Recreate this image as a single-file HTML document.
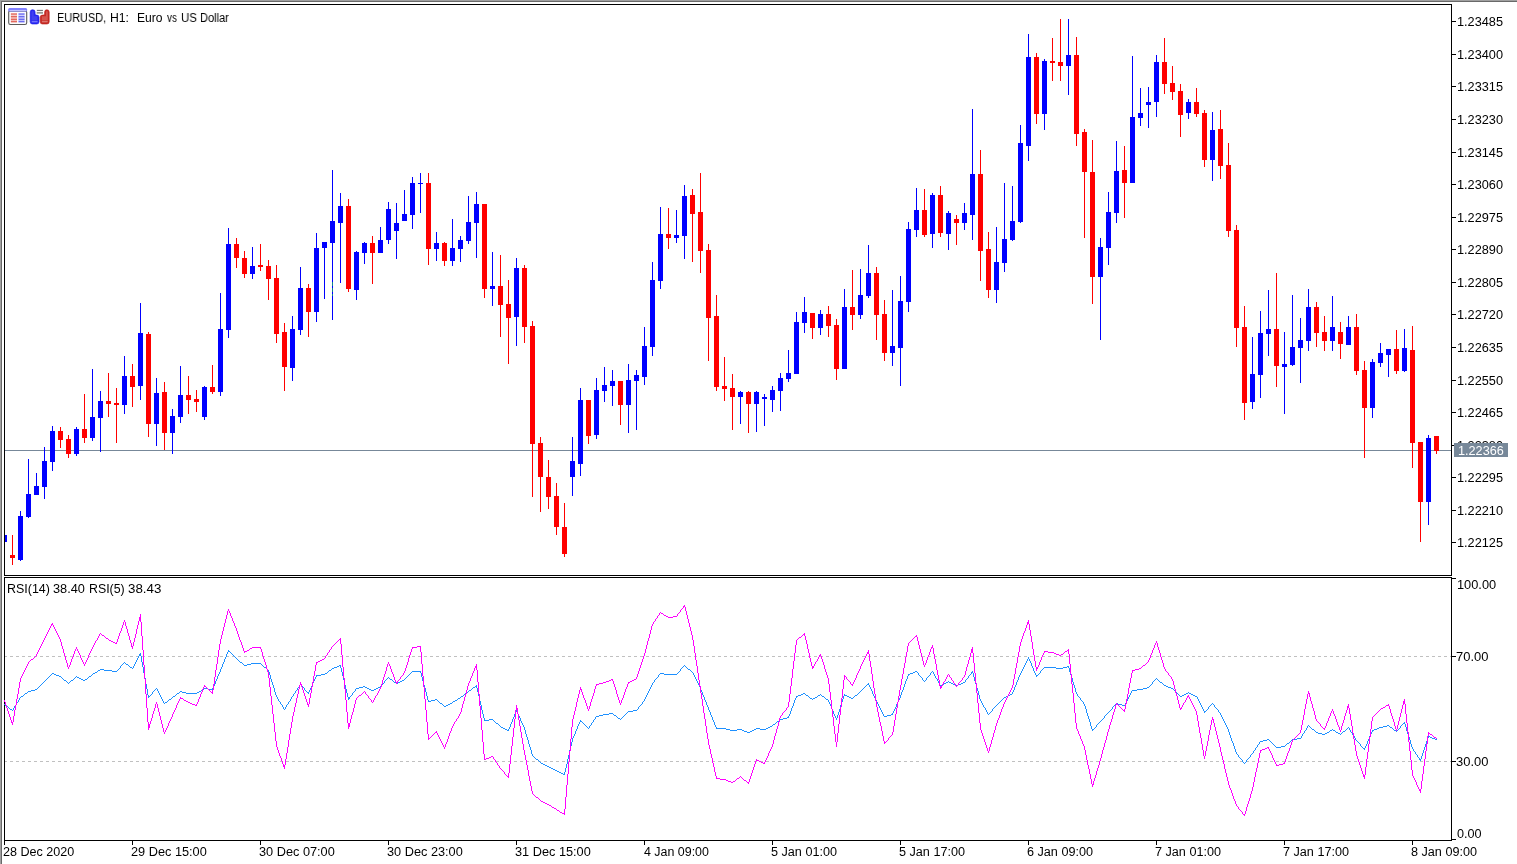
<!DOCTYPE html><html><head><meta charset="utf-8"><title>EURUSD,H1</title><style>
html,body{margin:0;padding:0;background:#fff;overflow:hidden}
body{width:1517px;height:864px;position:relative;font-family:"Liberation Sans",sans-serif;font-size:12px;color:#000}
.t{position:absolute;white-space:pre;line-height:14px;height:14px;transform-origin:0 0;will-change:transform}
svg{position:absolute;left:0;top:0}
</style></head><body>
<svg width="1517" height="864" viewBox="0 0 1517 864" shape-rendering="crispEdges">
<rect x="0" y="0" width="1517" height="1" fill="#a0a0a0"/>
<rect x="0" y="1" width="1517" height="1" fill="#696969"/>
<rect x="0" y="0" width="1" height="864" fill="#a0a0a0"/>
<rect x="1" y="1" width="1" height="863" fill="#696969"/>
<rect x="4" y="4" width="1448" height="1" fill="#000"/>
<rect x="4" y="575" width="1448" height="1" fill="#000"/>
<rect x="4" y="577" width="1448" height="1" fill="#000"/>
<rect x="4" y="840" width="1448" height="1" fill="#000"/>
<rect x="4" y="4" width="1" height="572" fill="#000"/>
<rect x="4" y="577" width="1" height="268" fill="#000"/>
<rect x="1451" y="4" width="1" height="572" fill="#000"/>
<rect x="1451" y="577" width="1" height="264" fill="#000"/>
<rect x="1452" y="21" width="4" height="1" fill="#000"/>
<rect x="1452" y="54" width="4" height="1" fill="#000"/>
<rect x="1452" y="86" width="4" height="1" fill="#000"/>
<rect x="1452" y="119" width="4" height="1" fill="#000"/>
<rect x="1452" y="152" width="4" height="1" fill="#000"/>
<rect x="1452" y="184" width="4" height="1" fill="#000"/>
<rect x="1452" y="217" width="4" height="1" fill="#000"/>
<rect x="1452" y="249" width="4" height="1" fill="#000"/>
<rect x="1452" y="282" width="4" height="1" fill="#000"/>
<rect x="1452" y="314" width="4" height="1" fill="#000"/>
<rect x="1452" y="347" width="4" height="1" fill="#000"/>
<rect x="1452" y="380" width="4" height="1" fill="#000"/>
<rect x="1452" y="412" width="4" height="1" fill="#000"/>
<rect x="1452" y="445" width="4" height="1" fill="#000"/>
<rect x="1452" y="477" width="4" height="1" fill="#000"/>
<rect x="1452" y="510" width="4" height="1" fill="#000"/>
<rect x="1452" y="542" width="4" height="1" fill="#000"/>
<rect x="1452" y="578" width="4" height="1" fill="#000"/>
<rect x="1452" y="656" width="4" height="1" fill="#000"/>
<rect x="1452" y="761" width="4" height="1" fill="#000"/>
<rect x="1452" y="839" width="4" height="1" fill="#000"/>
<rect x="4" y="841" width="1" height="4" fill="#000"/>
<rect x="132" y="841" width="1" height="4" fill="#000"/>
<rect x="260" y="841" width="1" height="4" fill="#000"/>
<rect x="388" y="841" width="1" height="4" fill="#000"/>
<rect x="516" y="841" width="1" height="4" fill="#000"/>
<rect x="644" y="841" width="1" height="4" fill="#000"/>
<rect x="772" y="841" width="1" height="4" fill="#000"/>
<rect x="900" y="841" width="1" height="4" fill="#000"/>
<rect x="1028" y="841" width="1" height="4" fill="#000"/>
<rect x="1156" y="841" width="1" height="4" fill="#000"/>
<rect x="1284" y="841" width="1" height="4" fill="#000"/>
<rect x="1412" y="841" width="1" height="4" fill="#000"/>
<path d="M5 656.5H7M10 656.5H1451" stroke="#c0c0c0" stroke-width="1" stroke-dasharray="3 3" fill="none"/>
<path d="M5 761.5H7M10 761.5H1451" stroke="#c0c0c0" stroke-width="1" stroke-dasharray="3 3" fill="none"/>
<rect x="5" y="450" width="1446" height="1" fill="#778899"/>
<rect x="5" y="535" width="2" height="7" fill="#0000ff"/>
<rect x="12" y="535" width="1" height="30" fill="#ff0000"/>
<rect x="10" y="555" width="5" height="3" fill="#ff0000"/>
<rect x="20" y="511" width="1" height="50" fill="#0000ff"/>
<rect x="18" y="516" width="5" height="44" fill="#0000ff"/>
<rect x="28" y="459" width="1" height="59" fill="#0000ff"/>
<rect x="26" y="494" width="5" height="23" fill="#0000ff"/>
<rect x="36" y="473" width="1" height="22" fill="#0000ff"/>
<rect x="34" y="486" width="5" height="9" fill="#0000ff"/>
<rect x="44" y="447" width="1" height="52" fill="#0000ff"/>
<rect x="42" y="461" width="5" height="26" fill="#0000ff"/>
<rect x="52" y="426" width="1" height="45" fill="#0000ff"/>
<rect x="50" y="431" width="5" height="31" fill="#0000ff"/>
<rect x="60" y="427" width="1" height="21" fill="#ff0000"/>
<rect x="58" y="431" width="5" height="9" fill="#ff0000"/>
<rect x="68" y="435" width="1" height="23" fill="#ff0000"/>
<rect x="66" y="439" width="5" height="15" fill="#ff0000"/>
<rect x="76" y="427" width="1" height="29" fill="#0000ff"/>
<rect x="74" y="429" width="5" height="25" fill="#0000ff"/>
<rect x="84" y="394" width="1" height="49" fill="#ff0000"/>
<rect x="82" y="429" width="5" height="9" fill="#ff0000"/>
<rect x="92" y="369" width="1" height="72" fill="#0000ff"/>
<rect x="90" y="417" width="5" height="21" fill="#0000ff"/>
<rect x="100" y="391" width="1" height="61" fill="#0000ff"/>
<rect x="98" y="401" width="5" height="17" fill="#0000ff"/>
<rect x="108" y="373" width="1" height="44" fill="#ff0000"/>
<rect x="106" y="401" width="5" height="3" fill="#ff0000"/>
<rect x="116" y="388" width="1" height="55" fill="#ff0000"/>
<rect x="114" y="403" width="5" height="2" fill="#ff0000"/>
<rect x="124" y="356" width="1" height="58" fill="#0000ff"/>
<rect x="122" y="376" width="5" height="29" fill="#0000ff"/>
<rect x="132" y="364" width="1" height="43" fill="#ff0000"/>
<rect x="130" y="376" width="5" height="11" fill="#ff0000"/>
<rect x="140" y="303" width="1" height="97" fill="#0000ff"/>
<rect x="138" y="333" width="5" height="53" fill="#0000ff"/>
<rect x="148" y="332" width="1" height="105" fill="#ff0000"/>
<rect x="146" y="334" width="5" height="90" fill="#ff0000"/>
<rect x="156" y="378" width="1" height="68" fill="#0000ff"/>
<rect x="154" y="393" width="5" height="31" fill="#0000ff"/>
<rect x="164" y="382" width="1" height="68" fill="#ff0000"/>
<rect x="162" y="392" width="5" height="41" fill="#ff0000"/>
<rect x="172" y="409" width="1" height="45" fill="#0000ff"/>
<rect x="170" y="416" width="5" height="17" fill="#0000ff"/>
<rect x="180" y="366" width="1" height="57" fill="#0000ff"/>
<rect x="178" y="395" width="5" height="22" fill="#0000ff"/>
<rect x="188" y="376" width="1" height="38" fill="#ff0000"/>
<rect x="186" y="395" width="5" height="5" fill="#ff0000"/>
<rect x="196" y="390" width="1" height="22" fill="#ff0000"/>
<rect x="194" y="399" width="5" height="3" fill="#ff0000"/>
<rect x="204" y="386" width="1" height="34" fill="#0000ff"/>
<rect x="202" y="387" width="5" height="30" fill="#0000ff"/>
<rect x="212" y="365" width="1" height="29" fill="#ff0000"/>
<rect x="210" y="387" width="5" height="5" fill="#ff0000"/>
<rect x="220" y="293" width="1" height="103" fill="#0000ff"/>
<rect x="218" y="329" width="5" height="63" fill="#0000ff"/>
<rect x="228" y="228" width="1" height="110" fill="#0000ff"/>
<rect x="226" y="244" width="5" height="86" fill="#0000ff"/>
<rect x="236" y="238" width="1" height="30" fill="#ff0000"/>
<rect x="234" y="244" width="5" height="14" fill="#ff0000"/>
<rect x="244" y="251" width="1" height="27" fill="#ff0000"/>
<rect x="242" y="258" width="5" height="16" fill="#ff0000"/>
<rect x="252" y="247" width="1" height="32" fill="#0000ff"/>
<rect x="250" y="266" width="5" height="8" fill="#0000ff"/>
<rect x="260" y="244" width="1" height="27" fill="#ff0000"/>
<rect x="258" y="265" width="5" height="2" fill="#ff0000"/>
<rect x="268" y="260" width="1" height="40" fill="#ff0000"/>
<rect x="266" y="266" width="5" height="13" fill="#ff0000"/>
<rect x="276" y="265" width="1" height="78" fill="#ff0000"/>
<rect x="274" y="278" width="5" height="56" fill="#ff0000"/>
<rect x="284" y="323" width="1" height="68" fill="#ff0000"/>
<rect x="282" y="332" width="5" height="35" fill="#ff0000"/>
<rect x="292" y="316" width="1" height="65" fill="#0000ff"/>
<rect x="290" y="329" width="5" height="39" fill="#0000ff"/>
<rect x="300" y="267" width="1" height="68" fill="#0000ff"/>
<rect x="298" y="288" width="5" height="42" fill="#0000ff"/>
<rect x="308" y="284" width="1" height="53" fill="#ff0000"/>
<rect x="306" y="288" width="5" height="24" fill="#ff0000"/>
<rect x="316" y="233" width="1" height="89" fill="#0000ff"/>
<rect x="314" y="248" width="5" height="64" fill="#0000ff"/>
<rect x="324" y="242" width="1" height="57" fill="#0000ff"/>
<rect x="322" y="242" width="5" height="6" fill="#0000ff"/>
<rect x="332" y="170" width="1" height="150" fill="#0000ff"/>
<rect x="330" y="221" width="5" height="22" fill="#0000ff"/>
<rect x="340" y="193" width="1" height="90" fill="#0000ff"/>
<rect x="338" y="206" width="5" height="17" fill="#0000ff"/>
<rect x="348" y="199" width="1" height="93" fill="#ff0000"/>
<rect x="346" y="206" width="5" height="83" fill="#ff0000"/>
<rect x="356" y="251" width="1" height="49" fill="#0000ff"/>
<rect x="354" y="252" width="5" height="38" fill="#0000ff"/>
<rect x="364" y="242" width="1" height="22" fill="#0000ff"/>
<rect x="362" y="243" width="5" height="10" fill="#0000ff"/>
<rect x="372" y="236" width="1" height="48" fill="#ff0000"/>
<rect x="370" y="243" width="5" height="10" fill="#ff0000"/>
<rect x="380" y="227" width="1" height="26" fill="#0000ff"/>
<rect x="378" y="240" width="5" height="13" fill="#0000ff"/>
<rect x="388" y="202" width="1" height="42" fill="#0000ff"/>
<rect x="386" y="209" width="5" height="31" fill="#0000ff"/>
<rect x="396" y="203" width="1" height="56" fill="#0000ff"/>
<rect x="394" y="223" width="5" height="8" fill="#0000ff"/>
<rect x="404" y="190" width="1" height="31" fill="#0000ff"/>
<rect x="402" y="214" width="5" height="7" fill="#0000ff"/>
<rect x="412" y="177" width="1" height="52" fill="#0000ff"/>
<rect x="410" y="183" width="5" height="32" fill="#0000ff"/>
<rect x="420" y="173" width="1" height="40" fill="#0000ff"/>
<rect x="418" y="183" width="5" height="1" fill="#0000ff"/>
<rect x="428" y="173" width="1" height="92" fill="#ff0000"/>
<rect x="426" y="183" width="5" height="66" fill="#ff0000"/>
<rect x="436" y="232" width="1" height="29" fill="#0000ff"/>
<rect x="434" y="243" width="5" height="6" fill="#0000ff"/>
<rect x="444" y="242" width="1" height="24" fill="#ff0000"/>
<rect x="442" y="243" width="5" height="18" fill="#ff0000"/>
<rect x="452" y="219" width="1" height="47" fill="#0000ff"/>
<rect x="450" y="248" width="5" height="13" fill="#0000ff"/>
<rect x="460" y="236" width="1" height="26" fill="#0000ff"/>
<rect x="458" y="240" width="5" height="9" fill="#0000ff"/>
<rect x="468" y="196" width="1" height="48" fill="#0000ff"/>
<rect x="466" y="222" width="5" height="19" fill="#0000ff"/>
<rect x="476" y="192" width="1" height="66" fill="#0000ff"/>
<rect x="474" y="204" width="5" height="19" fill="#0000ff"/>
<rect x="484" y="204" width="1" height="94" fill="#ff0000"/>
<rect x="482" y="204" width="5" height="85" fill="#ff0000"/>
<rect x="492" y="252" width="1" height="54" fill="#0000ff"/>
<rect x="490" y="286" width="5" height="3" fill="#0000ff"/>
<rect x="500" y="255" width="1" height="82" fill="#ff0000"/>
<rect x="498" y="286" width="5" height="19" fill="#ff0000"/>
<rect x="508" y="280" width="1" height="84" fill="#ff0000"/>
<rect x="506" y="304" width="5" height="14" fill="#ff0000"/>
<rect x="516" y="258" width="1" height="88" fill="#0000ff"/>
<rect x="514" y="268" width="5" height="49" fill="#0000ff"/>
<rect x="524" y="265" width="1" height="78" fill="#ff0000"/>
<rect x="522" y="268" width="5" height="59" fill="#ff0000"/>
<rect x="532" y="321" width="1" height="176" fill="#ff0000"/>
<rect x="530" y="326" width="5" height="118" fill="#ff0000"/>
<rect x="540" y="437" width="1" height="75" fill="#ff0000"/>
<rect x="538" y="443" width="5" height="34" fill="#ff0000"/>
<rect x="548" y="460" width="1" height="49" fill="#ff0000"/>
<rect x="546" y="477" width="5" height="20" fill="#ff0000"/>
<rect x="556" y="483" width="1" height="52" fill="#ff0000"/>
<rect x="554" y="496" width="5" height="31" fill="#ff0000"/>
<rect x="564" y="503" width="1" height="54" fill="#ff0000"/>
<rect x="562" y="527" width="5" height="27" fill="#ff0000"/>
<rect x="572" y="437" width="1" height="59" fill="#0000ff"/>
<rect x="570" y="461" width="5" height="16" fill="#0000ff"/>
<rect x="580" y="388" width="1" height="88" fill="#0000ff"/>
<rect x="578" y="400" width="5" height="64" fill="#0000ff"/>
<rect x="588" y="400" width="1" height="44" fill="#ff0000"/>
<rect x="586" y="400" width="5" height="36" fill="#ff0000"/>
<rect x="596" y="378" width="1" height="61" fill="#0000ff"/>
<rect x="594" y="390" width="5" height="45" fill="#0000ff"/>
<rect x="604" y="367" width="1" height="35" fill="#0000ff"/>
<rect x="602" y="385" width="5" height="6" fill="#0000ff"/>
<rect x="612" y="370" width="1" height="36" fill="#0000ff"/>
<rect x="610" y="381" width="5" height="5" fill="#0000ff"/>
<rect x="620" y="381" width="1" height="44" fill="#ff0000"/>
<rect x="618" y="381" width="5" height="24" fill="#ff0000"/>
<rect x="628" y="364" width="1" height="69" fill="#0000ff"/>
<rect x="626" y="380" width="5" height="25" fill="#0000ff"/>
<rect x="636" y="370" width="1" height="60" fill="#0000ff"/>
<rect x="634" y="375" width="5" height="6" fill="#0000ff"/>
<rect x="644" y="327" width="1" height="58" fill="#0000ff"/>
<rect x="642" y="346" width="5" height="31" fill="#0000ff"/>
<rect x="652" y="262" width="1" height="94" fill="#0000ff"/>
<rect x="650" y="280" width="5" height="67" fill="#0000ff"/>
<rect x="660" y="207" width="1" height="82" fill="#0000ff"/>
<rect x="658" y="234" width="5" height="47" fill="#0000ff"/>
<rect x="668" y="208" width="1" height="41" fill="#ff0000"/>
<rect x="666" y="234" width="5" height="4" fill="#ff0000"/>
<rect x="676" y="210" width="1" height="33" fill="#0000ff"/>
<rect x="674" y="235" width="5" height="3" fill="#0000ff"/>
<rect x="684" y="185" width="1" height="74" fill="#0000ff"/>
<rect x="682" y="196" width="5" height="40" fill="#0000ff"/>
<rect x="692" y="189" width="1" height="73" fill="#ff0000"/>
<rect x="690" y="195" width="5" height="19" fill="#ff0000"/>
<rect x="700" y="173" width="1" height="100" fill="#ff0000"/>
<rect x="698" y="212" width="5" height="39" fill="#ff0000"/>
<rect x="708" y="244" width="1" height="117" fill="#ff0000"/>
<rect x="706" y="250" width="5" height="68" fill="#ff0000"/>
<rect x="716" y="295" width="1" height="96" fill="#ff0000"/>
<rect x="714" y="316" width="5" height="71" fill="#ff0000"/>
<rect x="724" y="357" width="1" height="44" fill="#ff0000"/>
<rect x="722" y="386" width="5" height="3" fill="#ff0000"/>
<rect x="732" y="374" width="1" height="56" fill="#ff0000"/>
<rect x="730" y="388" width="5" height="9" fill="#ff0000"/>
<rect x="740" y="391" width="1" height="33" fill="#0000ff"/>
<rect x="738" y="392" width="5" height="5" fill="#0000ff"/>
<rect x="748" y="391" width="1" height="42" fill="#ff0000"/>
<rect x="746" y="392" width="5" height="12" fill="#ff0000"/>
<rect x="756" y="391" width="1" height="41" fill="#0000ff"/>
<rect x="754" y="392" width="5" height="12" fill="#0000ff"/>
<rect x="764" y="394" width="1" height="32" fill="#0000ff"/>
<rect x="762" y="397" width="5" height="2" fill="#0000ff"/>
<rect x="772" y="386" width="1" height="26" fill="#0000ff"/>
<rect x="770" y="390" width="5" height="10" fill="#0000ff"/>
<rect x="780" y="373" width="1" height="38" fill="#0000ff"/>
<rect x="778" y="378" width="5" height="13" fill="#0000ff"/>
<rect x="788" y="350" width="1" height="32" fill="#0000ff"/>
<rect x="786" y="373" width="5" height="6" fill="#0000ff"/>
<rect x="796" y="312" width="1" height="62" fill="#0000ff"/>
<rect x="794" y="322" width="5" height="52" fill="#0000ff"/>
<rect x="804" y="297" width="1" height="36" fill="#0000ff"/>
<rect x="802" y="312" width="5" height="11" fill="#0000ff"/>
<rect x="812" y="313" width="1" height="26" fill="#ff0000"/>
<rect x="810" y="313" width="5" height="15" fill="#ff0000"/>
<rect x="820" y="310" width="1" height="25" fill="#0000ff"/>
<rect x="818" y="314" width="5" height="14" fill="#0000ff"/>
<rect x="828" y="306" width="1" height="31" fill="#ff0000"/>
<rect x="826" y="314" width="5" height="12" fill="#ff0000"/>
<rect x="836" y="319" width="1" height="61" fill="#ff0000"/>
<rect x="834" y="325" width="5" height="44" fill="#ff0000"/>
<rect x="844" y="289" width="1" height="80" fill="#0000ff"/>
<rect x="842" y="307" width="5" height="62" fill="#0000ff"/>
<rect x="852" y="270" width="1" height="60" fill="#ff0000"/>
<rect x="850" y="307" width="5" height="8" fill="#ff0000"/>
<rect x="860" y="269" width="1" height="50" fill="#0000ff"/>
<rect x="858" y="295" width="5" height="20" fill="#0000ff"/>
<rect x="868" y="245" width="1" height="53" fill="#0000ff"/>
<rect x="866" y="273" width="5" height="23" fill="#0000ff"/>
<rect x="876" y="267" width="1" height="73" fill="#ff0000"/>
<rect x="874" y="273" width="5" height="42" fill="#ff0000"/>
<rect x="884" y="300" width="1" height="61" fill="#ff0000"/>
<rect x="882" y="314" width="5" height="39" fill="#ff0000"/>
<rect x="892" y="290" width="1" height="76" fill="#0000ff"/>
<rect x="890" y="346" width="5" height="7" fill="#0000ff"/>
<rect x="900" y="276" width="1" height="110" fill="#0000ff"/>
<rect x="898" y="301" width="5" height="47" fill="#0000ff"/>
<rect x="908" y="222" width="1" height="90" fill="#0000ff"/>
<rect x="906" y="229" width="5" height="73" fill="#0000ff"/>
<rect x="916" y="188" width="1" height="49" fill="#0000ff"/>
<rect x="914" y="210" width="5" height="20" fill="#0000ff"/>
<rect x="924" y="189" width="1" height="48" fill="#ff0000"/>
<rect x="922" y="210" width="5" height="25" fill="#ff0000"/>
<rect x="932" y="193" width="1" height="55" fill="#0000ff"/>
<rect x="930" y="195" width="5" height="39" fill="#0000ff"/>
<rect x="940" y="186" width="1" height="51" fill="#ff0000"/>
<rect x="938" y="195" width="5" height="38" fill="#ff0000"/>
<rect x="948" y="211" width="1" height="39" fill="#0000ff"/>
<rect x="946" y="213" width="5" height="21" fill="#0000ff"/>
<rect x="956" y="215" width="1" height="30" fill="#ff0000"/>
<rect x="954" y="219" width="5" height="4" fill="#ff0000"/>
<rect x="964" y="203" width="1" height="27" fill="#0000ff"/>
<rect x="962" y="213" width="5" height="10" fill="#0000ff"/>
<rect x="972" y="109" width="1" height="131" fill="#0000ff"/>
<rect x="970" y="174" width="5" height="41" fill="#0000ff"/>
<rect x="980" y="150" width="1" height="131" fill="#ff0000"/>
<rect x="978" y="174" width="5" height="77" fill="#ff0000"/>
<rect x="988" y="232" width="1" height="66" fill="#ff0000"/>
<rect x="986" y="249" width="5" height="41" fill="#ff0000"/>
<rect x="996" y="227" width="1" height="76" fill="#0000ff"/>
<rect x="994" y="262" width="5" height="28" fill="#0000ff"/>
<rect x="1004" y="183" width="1" height="89" fill="#0000ff"/>
<rect x="1002" y="239" width="5" height="24" fill="#0000ff"/>
<rect x="1012" y="186" width="1" height="55" fill="#0000ff"/>
<rect x="1010" y="221" width="5" height="19" fill="#0000ff"/>
<rect x="1020" y="125" width="1" height="98" fill="#0000ff"/>
<rect x="1018" y="143" width="5" height="79" fill="#0000ff"/>
<rect x="1028" y="34" width="1" height="127" fill="#0000ff"/>
<rect x="1026" y="57" width="5" height="89" fill="#0000ff"/>
<rect x="1036" y="53" width="1" height="71" fill="#ff0000"/>
<rect x="1034" y="57" width="5" height="57" fill="#ff0000"/>
<rect x="1044" y="59" width="1" height="71" fill="#0000ff"/>
<rect x="1042" y="61" width="5" height="53" fill="#0000ff"/>
<rect x="1052" y="38" width="1" height="43" fill="#ff0000"/>
<rect x="1050" y="61" width="5" height="2" fill="#ff0000"/>
<rect x="1060" y="19" width="1" height="62" fill="#ff0000"/>
<rect x="1058" y="62" width="5" height="4" fill="#ff0000"/>
<rect x="1068" y="19" width="1" height="76" fill="#0000ff"/>
<rect x="1066" y="55" width="5" height="11" fill="#0000ff"/>
<rect x="1076" y="37" width="1" height="109" fill="#ff0000"/>
<rect x="1074" y="55" width="5" height="79" fill="#ff0000"/>
<rect x="1084" y="129" width="1" height="109" fill="#ff0000"/>
<rect x="1082" y="132" width="5" height="40" fill="#ff0000"/>
<rect x="1092" y="140" width="1" height="164" fill="#ff0000"/>
<rect x="1090" y="172" width="5" height="105" fill="#ff0000"/>
<rect x="1100" y="238" width="1" height="102" fill="#0000ff"/>
<rect x="1098" y="247" width="5" height="30" fill="#0000ff"/>
<rect x="1108" y="192" width="1" height="73" fill="#0000ff"/>
<rect x="1106" y="212" width="5" height="36" fill="#0000ff"/>
<rect x="1116" y="141" width="1" height="82" fill="#0000ff"/>
<rect x="1114" y="171" width="5" height="42" fill="#0000ff"/>
<rect x="1124" y="146" width="1" height="72" fill="#ff0000"/>
<rect x="1122" y="170" width="5" height="13" fill="#ff0000"/>
<rect x="1132" y="56" width="1" height="127" fill="#0000ff"/>
<rect x="1130" y="117" width="5" height="66" fill="#0000ff"/>
<rect x="1140" y="88" width="1" height="38" fill="#0000ff"/>
<rect x="1138" y="113" width="5" height="5" fill="#0000ff"/>
<rect x="1148" y="87" width="1" height="41" fill="#0000ff"/>
<rect x="1146" y="102" width="5" height="3" fill="#0000ff"/>
<rect x="1156" y="55" width="1" height="62" fill="#0000ff"/>
<rect x="1154" y="62" width="5" height="40" fill="#0000ff"/>
<rect x="1164" y="38" width="1" height="56" fill="#ff0000"/>
<rect x="1162" y="62" width="5" height="22" fill="#ff0000"/>
<rect x="1172" y="66" width="1" height="34" fill="#ff0000"/>
<rect x="1170" y="83" width="5" height="9" fill="#ff0000"/>
<rect x="1180" y="84" width="1" height="53" fill="#ff0000"/>
<rect x="1178" y="91" width="5" height="24" fill="#ff0000"/>
<rect x="1188" y="99" width="1" height="20" fill="#0000ff"/>
<rect x="1186" y="102" width="5" height="11" fill="#0000ff"/>
<rect x="1196" y="88" width="1" height="29" fill="#ff0000"/>
<rect x="1194" y="102" width="5" height="12" fill="#ff0000"/>
<rect x="1204" y="110" width="1" height="57" fill="#ff0000"/>
<rect x="1202" y="113" width="5" height="47" fill="#ff0000"/>
<rect x="1212" y="112" width="1" height="69" fill="#0000ff"/>
<rect x="1210" y="130" width="5" height="30" fill="#0000ff"/>
<rect x="1220" y="110" width="1" height="69" fill="#ff0000"/>
<rect x="1218" y="129" width="5" height="37" fill="#ff0000"/>
<rect x="1228" y="143" width="1" height="94" fill="#ff0000"/>
<rect x="1226" y="165" width="5" height="66" fill="#ff0000"/>
<rect x="1236" y="225" width="1" height="122" fill="#ff0000"/>
<rect x="1234" y="230" width="5" height="98" fill="#ff0000"/>
<rect x="1244" y="306" width="1" height="114" fill="#ff0000"/>
<rect x="1242" y="327" width="5" height="76" fill="#ff0000"/>
<rect x="1252" y="337" width="1" height="72" fill="#0000ff"/>
<rect x="1250" y="374" width="5" height="28" fill="#0000ff"/>
<rect x="1260" y="311" width="1" height="87" fill="#0000ff"/>
<rect x="1258" y="333" width="5" height="42" fill="#0000ff"/>
<rect x="1268" y="290" width="1" height="66" fill="#0000ff"/>
<rect x="1266" y="329" width="5" height="5" fill="#0000ff"/>
<rect x="1276" y="273" width="1" height="114" fill="#ff0000"/>
<rect x="1274" y="329" width="5" height="37" fill="#ff0000"/>
<rect x="1284" y="332" width="1" height="82" fill="#0000ff"/>
<rect x="1282" y="364" width="5" height="3" fill="#0000ff"/>
<rect x="1292" y="295" width="1" height="71" fill="#0000ff"/>
<rect x="1290" y="347" width="5" height="18" fill="#0000ff"/>
<rect x="1300" y="318" width="1" height="65" fill="#0000ff"/>
<rect x="1298" y="340" width="5" height="8" fill="#0000ff"/>
<rect x="1308" y="289" width="1" height="62" fill="#0000ff"/>
<rect x="1306" y="307" width="5" height="34" fill="#0000ff"/>
<rect x="1316" y="302" width="1" height="45" fill="#ff0000"/>
<rect x="1314" y="307" width="5" height="26" fill="#ff0000"/>
<rect x="1324" y="316" width="1" height="35" fill="#ff0000"/>
<rect x="1322" y="332" width="5" height="9" fill="#ff0000"/>
<rect x="1332" y="296" width="1" height="55" fill="#0000ff"/>
<rect x="1330" y="327" width="5" height="14" fill="#0000ff"/>
<rect x="1340" y="322" width="1" height="37" fill="#ff0000"/>
<rect x="1338" y="332" width="5" height="12" fill="#ff0000"/>
<rect x="1348" y="316" width="1" height="29" fill="#0000ff"/>
<rect x="1346" y="327" width="5" height="18" fill="#0000ff"/>
<rect x="1356" y="314" width="1" height="61" fill="#ff0000"/>
<rect x="1354" y="327" width="5" height="44" fill="#ff0000"/>
<rect x="1364" y="361" width="1" height="97" fill="#ff0000"/>
<rect x="1362" y="370" width="5" height="38" fill="#ff0000"/>
<rect x="1372" y="359" width="1" height="59" fill="#0000ff"/>
<rect x="1370" y="362" width="5" height="46" fill="#0000ff"/>
<rect x="1380" y="343" width="1" height="24" fill="#0000ff"/>
<rect x="1378" y="353" width="5" height="10" fill="#0000ff"/>
<rect x="1388" y="349" width="1" height="28" fill="#0000ff"/>
<rect x="1386" y="349" width="5" height="6" fill="#0000ff"/>
<rect x="1396" y="330" width="1" height="44" fill="#ff0000"/>
<rect x="1394" y="349" width="5" height="22" fill="#ff0000"/>
<rect x="1404" y="329" width="1" height="43" fill="#0000ff"/>
<rect x="1402" y="348" width="5" height="23" fill="#0000ff"/>
<rect x="1412" y="326" width="1" height="142" fill="#ff0000"/>
<rect x="1410" y="350" width="5" height="93" fill="#ff0000"/>
<rect x="1420" y="442" width="1" height="100" fill="#ff0000"/>
<rect x="1418" y="442" width="5" height="60" fill="#ff0000"/>
<rect x="1428" y="435" width="1" height="90" fill="#0000ff"/>
<rect x="1426" y="438" width="5" height="64" fill="#0000ff"/>
<rect x="1436" y="436" width="1" height="18" fill="#ff0000"/>
<rect x="1434" y="436" width="5" height="15" fill="#ff0000"/>
<path d="M4.5 704v1M5.5 705v1M6.5 706v1M7.5 706v1M8.5 707v1M9.5 708v1M10.5 709v1M11.5 709v1M12.5 710v1M12.5 710v1M13.5 708v2M14.5 706v2M15.5 705v1M16.5 703v2M17.5 702v1M18.5 700v2M19.5 698v2M20.5 697v1M20.5 697v1M21.5 696v1M22.5 696v1M23.5 695v1M24.5 694v1M25.5 693v1M26.5 693v1M27.5 692v1M28.5 691v1M28.5 691v1M29.5 691v1M30.5 691v1M31.5 690v1M32.5 690v1M33.5 690v1M34.5 690v1M35.5 689v1M36.5 689v1M36.5 689v1M37.5 688v1M38.5 687v1M39.5 686v1M40.5 685v1M41.5 684v1M42.5 683v1M43.5 682v1M44.5 681v1M44.5 681v1M45.5 680v1M46.5 679v1M47.5 678v1M48.5 677v1M49.5 676v1M50.5 675v1M51.5 674v1M52.5 673v1M52.5 673v1M53.5 673v1M54.5 674v1M55.5 674v1M56.5 675v1M57.5 675v1M58.5 675v1M59.5 676v1M60.5 676v1M60.5 676v1M61.5 677v1M62.5 678v1M63.5 679v1M64.5 680v1M65.5 680v1M66.5 681v1M67.5 682v1M68.5 683v1M68.5 683v1M69.5 682v1M70.5 681v1M71.5 680v1M72.5 680v1M73.5 679v1M74.5 678v1M75.5 677v1M76.5 676v1M76.5 676v1M77.5 677v1M78.5 677v1M79.5 678v1M80.5 678v1M81.5 679v1M82.5 679v1M83.5 680v1M84.5 680v1M84.5 680v1M85.5 679v1M86.5 679v1M87.5 678v1M88.5 677v1M89.5 676v1M90.5 676v1M91.5 675v1M92.5 674v1M92.5 674v1M93.5 673v1M94.5 673v1M95.5 672v1M96.5 672v1M97.5 671v1M98.5 670v1M99.5 670v1M100.5 669v1M100.5 669v1M101.5 669v1M102.5 669v1M103.5 669v1M104.5 670v1M105.5 670v1M106.5 670v1M107.5 670v1M108.5 670v1M108.5 670v1M109.5 670v1M110.5 670v1M111.5 670v1M112.5 671v1M113.5 671v1M114.5 671v1M115.5 671v1M116.5 671v1M116.5 671v1M117.5 670v1M118.5 669v1M119.5 668v1M120.5 666v2M121.5 665v1M122.5 664v1M123.5 663v1M124.5 662v1M124.5 662v1M125.5 663v1M126.5 664v1M127.5 664v1M128.5 665v1M129.5 666v1M130.5 667v1M131.5 667v1M132.5 668v1M132.5 668v1M133.5 666v2M134.5 664v2M135.5 662v2M136.5 660v2M137.5 658v2M138.5 656v2M139.5 654v2M140.5 653v1M140.5 653v3M141.5 656v6M142.5 662v5M143.5 667v6M144.5 673v5M145.5 678v6M146.5 684v5M147.5 689v6M148.5 695v3M148.5 697v1M149.5 696v1M150.5 695v1M151.5 694v1M152.5 692v2M153.5 691v1M154.5 690v1M155.5 689v1M156.5 688v1M156.5 688v1M157.5 689v2M158.5 691v2M159.5 693v2M160.5 695v2M161.5 697v2M162.5 699v2M163.5 701v2M164.5 703v1M164.5 703v1M165.5 702v1M166.5 702v1M167.5 701v1M168.5 700v1M169.5 699v1M170.5 699v1M171.5 698v1M172.5 697v1M172.5 697v1M173.5 696v1M174.5 696v1M175.5 695v1M176.5 694v1M177.5 693v1M178.5 693v1M179.5 692v1M180.5 691v1M180.5 691v1M181.5 691v1M182.5 692v1M183.5 692v1M184.5 692v1M185.5 692v1M186.5 693v1M187.5 693v1M188.5 693v1M188.5 693v1M189.5 693v1M190.5 693v1M191.5 693v1M192.5 693v1M193.5 693v1M194.5 693v1M195.5 693v1M196.5 693v1M196.5 693v1M197.5 692v1M198.5 692v1M199.5 691v1M200.5 691v1M201.5 690v1M202.5 689v1M203.5 689v1M204.5 688v1M204.5 688v1M205.5 688v1M206.5 688v1M207.5 688v1M208.5 689v1M209.5 689v1M210.5 689v1M211.5 689v1M212.5 689v1M212.5 688v2M213.5 686v2M214.5 684v2M215.5 681v3M216.5 679v2M217.5 676v3M218.5 674v2M219.5 672v2M220.5 670v2M220.5 669v2M221.5 667v2M222.5 664v3M223.5 662v2M224.5 659v3M225.5 657v2M226.5 654v3M227.5 652v2M228.5 650v2M228.5 650v1M229.5 651v1M230.5 652v1M231.5 653v1M232.5 654v1M233.5 655v1M234.5 656v1M235.5 657v1M236.5 658v1M236.5 658v1M237.5 659v1M238.5 660v1M239.5 661v1M240.5 662v1M241.5 662v1M242.5 663v1M243.5 664v1M244.5 665v1M244.5 665v1M245.5 665v1M246.5 665v1M247.5 664v1M248.5 664v1M249.5 664v1M250.5 664v1M251.5 663v1M252.5 663v1M252.5 663v1M253.5 663v1M254.5 663v1M255.5 663v1M256.5 663v1M257.5 663v1M258.5 663v1M259.5 663v1M260.5 663v1M260.5 663v1M261.5 664v1M262.5 665v1M263.5 666v1M264.5 667v1M265.5 667v1M266.5 668v1M267.5 669v1M268.5 670v1M268.5 670v2M269.5 672v3M270.5 675v4M271.5 679v3M272.5 682v3M273.5 685v3M274.5 688v4M275.5 692v3M276.5 695v2M276.5 696v1M277.5 697v2M278.5 699v2M279.5 701v1M280.5 702v2M281.5 704v1M282.5 705v2M283.5 707v2M284.5 709v1M284.5 709v1M285.5 707v2M286.5 705v2M287.5 704v1M288.5 702v2M289.5 701v1M290.5 699v2M291.5 697v2M292.5 696v1M292.5 696v1M293.5 694v2M294.5 693v1M295.5 691v2M296.5 690v1M297.5 688v2M298.5 687v1M299.5 685v2M300.5 684v1M300.5 684v1M301.5 685v1M302.5 686v1M303.5 687v1M304.5 688v2M305.5 690v1M306.5 691v1M307.5 692v1M308.5 693v1M308.5 692v2M309.5 690v2M310.5 688v2M311.5 686v2M312.5 683v3M313.5 681v2M314.5 679v2M315.5 677v2M316.5 675v2M316.5 675v1M317.5 675v1M318.5 675v1M319.5 675v1M320.5 675v1M321.5 674v1M322.5 674v1M323.5 674v1M324.5 674v1M324.5 674v1M325.5 673v1M326.5 673v1M327.5 672v1M328.5 671v1M329.5 670v1M330.5 670v1M331.5 669v1M332.5 668v1M332.5 668v1M333.5 668v1M334.5 667v1M335.5 667v1M336.5 667v1M337.5 666v1M338.5 666v1M339.5 665v1M340.5 665v1M340.5 665v3M341.5 668v4M342.5 672v4M343.5 676v4M344.5 680v5M345.5 685v4M346.5 689v4M347.5 693v4M348.5 697v3M348.5 699v1M349.5 697v2M350.5 696v1M351.5 695v1M352.5 693v2M353.5 692v1M354.5 691v1M355.5 689v2M356.5 688v1M356.5 688v1M357.5 688v1M358.5 688v1M359.5 687v1M360.5 687v1M361.5 687v1M362.5 687v1M363.5 686v1M364.5 686v1M364.5 686v1M365.5 687v1M366.5 687v1M367.5 688v1M368.5 688v1M369.5 689v1M370.5 689v1M371.5 690v1M372.5 690v1M372.5 690v1M373.5 690v1M374.5 689v1M375.5 689v1M376.5 688v1M377.5 688v1M378.5 687v1M379.5 687v1M380.5 686v1M380.5 686v1M381.5 685v1M382.5 684v1M383.5 683v1M384.5 681v2M385.5 680v1M386.5 679v1M387.5 678v1M388.5 677v1M388.5 677v1M389.5 678v1M390.5 679v1M391.5 679v1M392.5 680v1M393.5 681v1M394.5 682v1M395.5 682v1M396.5 683v1M396.5 683v1M397.5 683v1M398.5 682v1M399.5 682v1M400.5 681v1M401.5 681v1M402.5 680v1M403.5 680v1M404.5 679v1M404.5 679v1M405.5 678v1M406.5 677v1M407.5 676v1M408.5 675v1M409.5 674v1M410.5 673v1M411.5 672v1M412.5 671v1M412.5 671v1M413.5 671v1M414.5 671v1M415.5 671v1M416.5 671v1M417.5 671v1M418.5 671v1M419.5 671v1M420.5 671v1M420.5 671v2M421.5 673v4M422.5 677v4M423.5 681v4M424.5 685v3M425.5 688v4M426.5 692v4M427.5 696v4M428.5 700v2M428.5 701v1M429.5 701v1M430.5 701v1M431.5 700v1M432.5 700v1M433.5 700v1M434.5 700v1M435.5 699v1M436.5 699v1M436.5 699v1M437.5 700v1M438.5 701v1M439.5 702v1M440.5 703v1M441.5 703v1M442.5 704v1M443.5 705v1M444.5 706v1M444.5 706v1M445.5 706v1M446.5 705v1M447.5 705v1M448.5 704v1M449.5 704v1M450.5 703v1M451.5 703v1M452.5 702v1M452.5 702v1M453.5 701v1M454.5 701v1M455.5 700v1M456.5 700v1M457.5 699v1M458.5 698v1M459.5 698v1M460.5 697v1M460.5 697v1M461.5 696v1M462.5 696v1M463.5 695v1M464.5 694v1M465.5 693v1M466.5 693v1M467.5 692v1M468.5 691v1M468.5 691v1M469.5 690v1M470.5 690v1M471.5 689v1M472.5 688v1M473.5 687v1M474.5 687v1M475.5 686v1M476.5 685v1M476.5 685v3M477.5 688v4M478.5 692v4M479.5 696v5M480.5 701v4M481.5 705v5M482.5 710v4M483.5 714v4M484.5 718v3M484.5 720v1M485.5 720v1M486.5 720v1M487.5 720v1M488.5 720v1M489.5 719v1M490.5 719v1M491.5 719v1M492.5 719v1M492.5 719v1M493.5 720v1M494.5 721v1M495.5 722v1M496.5 723v1M497.5 723v1M498.5 724v1M499.5 725v1M500.5 726v1M500.5 726v1M501.5 727v1M502.5 727v1M503.5 728v1M504.5 728v1M505.5 729v1M506.5 729v1M507.5 730v1M508.5 730v1M508.5 729v2M509.5 727v2M510.5 724v3M511.5 722v2M512.5 719v3M513.5 717v2M514.5 714v3M515.5 712v2M516.5 710v2M516.5 710v2M517.5 712v2M518.5 714v2M519.5 716v2M520.5 718v3M521.5 721v2M522.5 723v2M523.5 725v2M524.5 727v2M524.5 728v2M525.5 730v4M526.5 734v3M527.5 737v3M528.5 740v4M529.5 744v3M530.5 747v3M531.5 750v4M532.5 754v2M532.5 755v1M533.5 756v1M534.5 757v1M535.5 758v1M536.5 759v1M537.5 759v1M538.5 760v1M539.5 761v1M540.5 762v1M540.5 762v1M541.5 763v1M542.5 763v1M543.5 764v1M544.5 764v1M545.5 765v1M546.5 765v1M547.5 766v1M548.5 766v1M548.5 766v1M549.5 767v1M550.5 767v1M551.5 768v1M552.5 768v1M553.5 769v1M554.5 769v1M555.5 770v1M556.5 770v1M556.5 770v1M557.5 771v1M558.5 771v1M559.5 772v1M560.5 772v1M561.5 773v1M562.5 773v1M563.5 774v1M564.5 774v1M564.5 772v3M565.5 768v4M566.5 764v4M567.5 759v5M568.5 755v4M569.5 750v5M570.5 746v4M571.5 742v4M572.5 739v3M572.5 738v2M573.5 736v2M574.5 734v2M575.5 731v3M576.5 729v2M577.5 726v3M578.5 724v2M579.5 722v2M580.5 720v2M580.5 720v1M581.5 721v1M582.5 722v1M583.5 723v1M584.5 724v1M585.5 725v1M586.5 726v1M587.5 727v1M588.5 728v1M588.5 728v1M589.5 726v2M590.5 725v1M591.5 723v2M592.5 722v1M593.5 720v2M594.5 719v1M595.5 717v2M596.5 716v1M596.5 716v1M597.5 716v1M598.5 716v1M599.5 715v1M600.5 715v1M601.5 715v1M602.5 715v1M603.5 714v1M604.5 714v1M604.5 714v1M605.5 714v1M606.5 714v1M607.5 714v1M608.5 714v1M609.5 713v1M610.5 713v1M611.5 713v1M612.5 713v1M612.5 713v1M613.5 714v1M614.5 715v1M615.5 715v1M616.5 716v1M617.5 717v1M618.5 718v1M619.5 718v1M620.5 719v1M620.5 719v1M621.5 718v1M622.5 717v1M623.5 716v1M624.5 715v1M625.5 714v1M626.5 713v1M627.5 712v1M628.5 711v1M628.5 711v1M629.5 711v1M630.5 711v1M631.5 711v1M632.5 711v1M633.5 710v1M634.5 710v1M635.5 710v1M636.5 710v1M636.5 710v1M637.5 709v1M638.5 707v2M639.5 706v1M640.5 705v1M641.5 704v1M642.5 702v2M643.5 701v1M644.5 700v1M644.5 699v2M645.5 697v2M646.5 695v2M647.5 693v2M648.5 691v2M649.5 689v2M650.5 687v2M651.5 685v2M652.5 683v2M652.5 683v1M653.5 682v1M654.5 680v2M655.5 679v1M656.5 678v1M657.5 677v1M658.5 675v2M659.5 674v1M660.5 673v1M660.5 673v1M661.5 673v1M662.5 673v1M663.5 673v1M664.5 674v1M665.5 674v1M666.5 674v1M667.5 674v1M668.5 674v1M668.5 674v1M669.5 674v1M670.5 674v1M671.5 674v1M672.5 674v1M673.5 674v1M674.5 674v1M675.5 674v1M676.5 674v1M676.5 674v1M677.5 673v1M678.5 672v1M679.5 671v1M680.5 669v2M681.5 668v1M682.5 667v1M683.5 666v1M684.5 665v1M684.5 665v1M685.5 666v1M686.5 667v1M687.5 668v1M688.5 669v1M689.5 669v1M690.5 670v1M691.5 671v1M692.5 672v1M692.5 672v1M693.5 673v2M694.5 675v2M695.5 677v2M696.5 679v2M697.5 681v2M698.5 683v2M699.5 685v2M700.5 687v2M700.5 688v2M701.5 690v2M702.5 692v3M703.5 695v2M704.5 697v3M705.5 700v2M706.5 702v3M707.5 705v2M708.5 707v2M708.5 708v2M709.5 710v2M710.5 712v3M711.5 715v2M712.5 717v3M713.5 720v2M714.5 722v3M715.5 725v2M716.5 727v2M716.5 728v1M717.5 728v1M718.5 728v1M719.5 728v1M720.5 728v1M721.5 728v1M722.5 728v1M723.5 728v1M724.5 728v1M724.5 728v1M725.5 728v1M726.5 729v1M727.5 729v1M728.5 729v1M729.5 729v1M730.5 730v1M731.5 730v1M732.5 730v1M732.5 730v1M733.5 730v1M734.5 730v1M735.5 730v1M736.5 730v1M737.5 729v1M738.5 729v1M739.5 729v1M740.5 729v1M740.5 729v1M741.5 729v1M742.5 730v1M743.5 730v1M744.5 731v1M745.5 731v1M746.5 731v1M747.5 732v1M748.5 732v1M748.5 732v1M749.5 732v1M750.5 731v1M751.5 731v1M752.5 730v1M753.5 730v1M754.5 729v1M755.5 729v1M756.5 728v1M756.5 728v1M757.5 728v1M758.5 728v1M759.5 728v1M760.5 729v1M761.5 729v1M762.5 729v1M763.5 729v1M764.5 729v1M764.5 729v1M765.5 729v1M766.5 728v1M767.5 728v1M768.5 727v1M769.5 727v1M770.5 726v1M771.5 726v1M772.5 725v1M772.5 725v1M773.5 724v1M774.5 724v1M775.5 723v1M776.5 722v1M777.5 721v1M778.5 721v1M779.5 720v1M780.5 719v1M780.5 719v1M781.5 719v1M782.5 719v1M783.5 718v1M784.5 718v1M785.5 718v1M786.5 718v1M787.5 717v1M788.5 717v1M788.5 716v2M789.5 714v2M790.5 711v3M791.5 708v3M792.5 706v2M793.5 703v3M794.5 700v3M795.5 698v2M796.5 696v2M796.5 696v1M797.5 696v1M798.5 695v1M799.5 695v1M800.5 695v1M801.5 694v1M802.5 694v1M803.5 693v1M804.5 693v1M804.5 693v1M805.5 694v1M806.5 695v1M807.5 695v1M808.5 696v1M809.5 697v1M810.5 698v1M811.5 698v1M812.5 699v1M812.5 699v1M813.5 698v1M814.5 698v1M815.5 697v1M816.5 697v1M817.5 696v1M818.5 695v1M819.5 695v1M820.5 694v1M820.5 694v1M821.5 695v1M822.5 696v1M823.5 696v1M824.5 697v1M825.5 698v1M826.5 699v1M827.5 699v1M828.5 700v1M828.5 700v2M829.5 702v2M830.5 704v2M831.5 706v3M832.5 709v2M833.5 711v3M834.5 714v2M835.5 716v2M836.5 718v2M836.5 718v2M837.5 715v3M838.5 712v3M839.5 709v3M840.5 705v4M841.5 702v3M842.5 699v3M843.5 696v3M844.5 694v2M844.5 694v1M845.5 695v1M846.5 695v1M847.5 696v1M848.5 696v1M849.5 697v1M850.5 697v1M851.5 698v1M852.5 698v1M852.5 698v1M853.5 697v1M854.5 696v1M855.5 695v1M856.5 695v1M857.5 694v1M858.5 693v1M859.5 692v1M860.5 691v1M860.5 691v1M861.5 690v1M862.5 689v1M863.5 688v1M864.5 687v1M865.5 686v1M866.5 685v1M867.5 684v1M868.5 683v1M868.5 683v2M869.5 685v2M870.5 687v2M871.5 689v2M872.5 691v3M873.5 694v2M874.5 696v2M875.5 698v2M876.5 700v2M876.5 701v1M877.5 702v2M878.5 704v2M879.5 706v2M880.5 708v2M881.5 710v2M882.5 712v2M883.5 714v2M884.5 716v1M884.5 716v1M885.5 716v1M886.5 716v1M887.5 715v1M888.5 715v1M889.5 715v1M890.5 715v1M891.5 714v1M892.5 714v1M892.5 713v2M893.5 711v2M894.5 709v2M895.5 707v2M896.5 704v3M897.5 702v2M898.5 700v2M899.5 698v2M900.5 696v2M900.5 695v2M901.5 692v3M902.5 690v2M903.5 687v3M904.5 684v3M905.5 681v3M906.5 679v2M907.5 676v3M908.5 674v2M908.5 674v1M909.5 674v1M910.5 673v1M911.5 673v1M912.5 673v1M913.5 672v1M914.5 672v1M915.5 671v1M916.5 671v1M916.5 671v1M917.5 672v1M918.5 673v2M919.5 675v1M920.5 676v1M921.5 677v1M922.5 678v2M923.5 680v1M924.5 681v1M924.5 681v1M925.5 680v1M926.5 678v2M927.5 677v1M928.5 676v1M929.5 675v1M930.5 673v2M931.5 672v1M932.5 671v1M932.5 671v1M933.5 672v2M934.5 674v2M935.5 676v2M936.5 678v1M937.5 679v2M938.5 681v2M939.5 683v2M940.5 685v1M940.5 685v1M941.5 685v1M942.5 684v1M943.5 684v1M944.5 683v1M945.5 683v1M946.5 682v1M947.5 682v1M948.5 681v1M948.5 681v1M949.5 682v1M950.5 682v1M951.5 683v1M952.5 683v1M953.5 684v1M954.5 684v1M955.5 685v1M956.5 685v1M956.5 685v1M957.5 685v1M958.5 684v1M959.5 684v1M960.5 684v1M961.5 683v1M962.5 683v1M963.5 682v1M964.5 682v1M964.5 682v1M965.5 680v2M966.5 679v1M967.5 678v1M968.5 676v2M969.5 675v1M970.5 674v1M971.5 672v2M972.5 671v1M972.5 671v2M973.5 673v4M974.5 677v4M975.5 681v3M976.5 684v4M977.5 688v3M978.5 691v4M979.5 695v4M980.5 699v2M980.5 700v1M981.5 701v2M982.5 703v2M983.5 705v2M984.5 707v1M985.5 708v2M986.5 710v2M987.5 712v2M988.5 714v1M988.5 714v1M989.5 713v1M990.5 712v1M991.5 711v1M992.5 709v2M993.5 708v1M994.5 707v1M995.5 706v1M996.5 705v1M996.5 705v1M997.5 704v1M998.5 703v1M999.5 702v1M1000.5 701v1M1001.5 700v1M1002.5 699v1M1003.5 698v1M1004.5 697v1M1004.5 697v1M1005.5 697v1M1006.5 696v1M1007.5 696v1M1008.5 695v1M1009.5 695v1M1010.5 694v1M1011.5 694v1M1012.5 693v1M1012.5 692v2M1013.5 690v2M1014.5 687v3M1015.5 685v2M1016.5 682v3M1017.5 680v2M1018.5 677v3M1019.5 675v2M1020.5 673v2M1020.5 673v1M1021.5 671v2M1022.5 669v2M1023.5 667v2M1024.5 665v2M1025.5 663v2M1026.5 661v2M1027.5 659v2M1028.5 657v2M1028.5 657v2M1029.5 659v2M1030.5 661v2M1031.5 663v3M1032.5 666v2M1033.5 668v3M1034.5 671v2M1035.5 673v2M1036.5 675v2M1036.5 676v1M1037.5 675v1M1038.5 674v1M1039.5 673v1M1040.5 671v2M1041.5 670v1M1042.5 669v1M1043.5 668v1M1044.5 667v1M1044.5 667v1M1045.5 667v1M1046.5 667v1M1047.5 667v1M1048.5 667v1M1049.5 667v1M1050.5 667v1M1051.5 667v1M1052.5 667v1M1052.5 667v1M1053.5 667v1M1054.5 667v1M1055.5 667v1M1056.5 668v1M1057.5 668v1M1058.5 668v1M1059.5 668v1M1060.5 668v1M1060.5 668v1M1061.5 668v1M1062.5 668v1M1063.5 667v1M1064.5 667v1M1065.5 667v1M1066.5 667v1M1067.5 666v1M1068.5 666v1M1068.5 666v2M1069.5 668v4M1070.5 672v3M1071.5 675v3M1072.5 678v4M1073.5 682v3M1074.5 685v3M1075.5 688v4M1076.5 692v2M1076.5 693v1M1077.5 694v2M1078.5 696v1M1079.5 697v1M1080.5 698v2M1081.5 700v1M1082.5 701v1M1083.5 702v2M1084.5 704v1M1084.5 704v2M1085.5 706v3M1086.5 709v4M1087.5 713v3M1088.5 716v3M1089.5 719v3M1090.5 722v4M1091.5 726v3M1092.5 729v2M1092.5 730v1M1093.5 729v1M1094.5 728v1M1095.5 727v1M1096.5 725v2M1097.5 724v1M1098.5 723v1M1099.5 722v1M1100.5 721v1M1100.5 721v1M1101.5 720v1M1102.5 719v1M1103.5 718v1M1104.5 716v2M1105.5 715v1M1106.5 714v1M1107.5 713v1M1108.5 712v1M1108.5 712v1M1109.5 711v1M1110.5 710v1M1111.5 709v1M1112.5 707v2M1113.5 706v1M1114.5 705v1M1115.5 704v1M1116.5 703v1M1116.5 703v1M1117.5 703v1M1118.5 704v1M1119.5 704v1M1120.5 704v1M1121.5 704v1M1122.5 705v1M1123.5 705v1M1124.5 705v1M1124.5 705v1M1125.5 703v2M1126.5 701v2M1127.5 699v2M1128.5 697v2M1129.5 695v2M1130.5 693v2M1131.5 691v2M1132.5 690v1M1132.5 690v1M1133.5 690v1M1134.5 690v1M1135.5 690v1M1136.5 690v1M1137.5 689v1M1138.5 689v1M1139.5 689v1M1140.5 689v1M1140.5 689v1M1141.5 689v1M1142.5 689v1M1143.5 688v1M1144.5 688v1M1145.5 688v1M1146.5 688v1M1147.5 687v1M1148.5 687v1M1148.5 687v1M1149.5 686v1M1150.5 685v1M1151.5 684v1M1152.5 682v2M1153.5 681v1M1154.5 680v1M1155.5 679v1M1156.5 678v1M1156.5 678v1M1157.5 679v1M1158.5 680v1M1159.5 681v1M1160.5 682v1M1161.5 682v1M1162.5 683v1M1163.5 684v1M1164.5 685v1M1164.5 685v1M1165.5 685v1M1166.5 686v1M1167.5 686v1M1168.5 687v1M1169.5 687v1M1170.5 687v1M1171.5 688v1M1172.5 688v1M1172.5 688v1M1173.5 689v1M1174.5 690v1M1175.5 691v1M1176.5 692v1M1177.5 693v1M1178.5 694v1M1179.5 695v1M1180.5 696v1M1180.5 696v1M1181.5 696v1M1182.5 695v1M1183.5 695v1M1184.5 694v1M1185.5 694v1M1186.5 693v1M1187.5 693v1M1188.5 692v1M1188.5 692v1M1189.5 693v1M1190.5 693v1M1191.5 694v1M1192.5 694v1M1193.5 695v1M1194.5 695v1M1195.5 696v1M1196.5 696v1M1196.5 696v1M1197.5 697v2M1198.5 699v2M1199.5 701v2M1200.5 703v2M1201.5 705v2M1202.5 707v2M1203.5 709v2M1204.5 711v2M1204.5 712v1M1205.5 711v1M1206.5 710v1M1207.5 709v1M1208.5 707v2M1209.5 706v1M1210.5 705v1M1211.5 704v1M1212.5 703v1M1212.5 703v1M1213.5 704v1M1214.5 705v2M1215.5 707v1M1216.5 708v1M1217.5 709v1M1218.5 710v2M1219.5 712v1M1220.5 713v1M1220.5 713v2M1221.5 715v2M1222.5 717v2M1223.5 719v2M1224.5 721v2M1225.5 723v2M1226.5 725v2M1227.5 727v2M1228.5 729v2M1228.5 730v2M1229.5 732v3M1230.5 735v3M1231.5 738v3M1232.5 741v2M1233.5 743v3M1234.5 746v3M1235.5 749v3M1236.5 752v2M1236.5 753v1M1237.5 754v1M1238.5 755v2M1239.5 757v1M1240.5 758v1M1241.5 759v1M1242.5 760v2M1243.5 762v1M1244.5 763v1M1244.5 763v1M1245.5 762v1M1246.5 760v2M1247.5 759v1M1248.5 758v1M1249.5 757v1M1250.5 755v2M1251.5 754v1M1252.5 753v1M1252.5 753v1M1253.5 751v2M1254.5 750v1M1255.5 748v2M1256.5 747v1M1257.5 745v2M1258.5 744v1M1259.5 742v2M1260.5 741v1M1260.5 741v1M1261.5 741v1M1262.5 741v1M1263.5 740v1M1264.5 740v1M1265.5 740v1M1266.5 740v1M1267.5 739v1M1268.5 739v1M1268.5 739v1M1269.5 740v1M1270.5 741v1M1271.5 742v1M1272.5 743v1M1273.5 744v1M1274.5 745v1M1275.5 746v1M1276.5 747v1M1276.5 747v1M1277.5 747v1M1278.5 747v1M1279.5 747v1M1280.5 747v1M1281.5 746v1M1282.5 746v1M1283.5 746v1M1284.5 746v1M1284.5 746v1M1285.5 745v1M1286.5 744v1M1287.5 743v1M1288.5 743v1M1289.5 742v1M1290.5 741v1M1291.5 740v1M1292.5 739v1M1292.5 739v1M1293.5 739v1M1294.5 739v1M1295.5 739v1M1296.5 739v1M1297.5 738v1M1298.5 738v1M1299.5 738v1M1300.5 738v1M1300.5 738v1M1301.5 736v2M1302.5 734v2M1303.5 733v1M1304.5 731v2M1305.5 730v1M1306.5 728v2M1307.5 726v2M1308.5 725v1M1308.5 725v1M1309.5 726v1M1310.5 727v1M1311.5 728v1M1312.5 729v1M1313.5 729v1M1314.5 730v1M1315.5 731v1M1316.5 732v1M1316.5 732v1M1317.5 732v1M1318.5 733v1M1319.5 733v1M1320.5 733v1M1321.5 733v1M1322.5 734v1M1323.5 734v1M1324.5 734v1M1324.5 734v1M1325.5 733v1M1326.5 733v1M1327.5 732v1M1328.5 732v1M1329.5 731v1M1330.5 730v1M1331.5 730v1M1332.5 729v1M1332.5 729v1M1333.5 730v1M1334.5 730v1M1335.5 731v1M1336.5 732v1M1337.5 732v1M1338.5 733v1M1339.5 733v1M1340.5 734v1M1340.5 734v1M1341.5 733v1M1342.5 732v1M1343.5 731v1M1344.5 731v1M1345.5 730v1M1346.5 729v1M1347.5 728v1M1348.5 727v1M1348.5 727v1M1349.5 728v2M1350.5 730v2M1351.5 732v1M1352.5 733v2M1353.5 735v1M1354.5 736v2M1355.5 738v2M1356.5 740v1M1356.5 740v1M1357.5 741v1M1358.5 742v1M1359.5 743v1M1360.5 744v2M1361.5 746v1M1362.5 747v1M1363.5 748v1M1364.5 749v1M1364.5 748v2M1365.5 746v2M1366.5 744v2M1367.5 741v3M1368.5 739v2M1369.5 736v3M1370.5 734v2M1371.5 732v2M1372.5 730v2M1372.5 730v1M1373.5 730v1M1374.5 729v1M1375.5 729v1M1376.5 729v1M1377.5 728v1M1378.5 728v1M1379.5 727v1M1380.5 727v1M1380.5 727v1M1381.5 727v1M1382.5 727v1M1383.5 726v1M1384.5 726v1M1385.5 726v1M1386.5 726v1M1387.5 725v1M1388.5 725v1M1388.5 725v1M1389.5 726v1M1390.5 727v1M1391.5 727v1M1392.5 728v1M1393.5 729v1M1394.5 730v1M1395.5 730v1M1396.5 731v1M1396.5 731v1M1397.5 730v1M1398.5 729v1M1399.5 728v1M1400.5 726v2M1401.5 725v1M1402.5 724v1M1403.5 723v1M1404.5 722v1M1404.5 722v2M1405.5 724v3M1406.5 727v4M1407.5 731v3M1408.5 734v3M1409.5 737v3M1410.5 740v4M1411.5 744v3M1412.5 747v2M1412.5 748v1M1413.5 749v2M1414.5 751v1M1415.5 752v2M1416.5 754v1M1417.5 755v2M1418.5 757v1M1419.5 758v2M1420.5 760v1M1420.5 759v2M1421.5 756v3M1422.5 753v3M1423.5 750v3M1424.5 747v3M1425.5 744v3M1426.5 741v3M1427.5 738v3M1428.5 736v2M1428.5 736v1M1429.5 736v1M1430.5 737v1M1431.5 737v1M1432.5 738v1M1433.5 738v1M1434.5 738v1M1435.5 739v1M1436.5 739v1" fill="none" stroke="#1e90ff" stroke-width="1"/>
<path d="M4.5 700v2M5.5 702v3M6.5 705v3M7.5 708v3M8.5 711v3M9.5 714v3M10.5 717v3M11.5 720v3M12.5 723v2M12.5 722v3M13.5 716v6M14.5 710v6M15.5 705v5M16.5 699v6M17.5 694v5M18.5 688v6M19.5 682v6M20.5 679v3M20.5 678v2M21.5 676v2M22.5 674v2M23.5 672v2M24.5 670v2M25.5 668v2M26.5 666v2M27.5 664v2M28.5 662v2M28.5 662v1M29.5 661v1M30.5 660v1M31.5 659v1M32.5 659v1M33.5 658v1M34.5 657v1M35.5 656v1M36.5 655v1M36.5 654v2M37.5 652v2M38.5 650v2M39.5 648v2M40.5 646v2M41.5 644v2M42.5 642v2M43.5 640v2M44.5 638v2M44.5 638v1M45.5 636v2M46.5 634v2M47.5 632v2M48.5 630v2M49.5 628v2M50.5 626v2M51.5 624v2M52.5 623v1M52.5 623v2M53.5 625v2M54.5 627v2M55.5 629v2M56.5 631v2M57.5 633v2M58.5 635v2M59.5 637v2M60.5 639v2M60.5 640v2M61.5 642v4M62.5 646v3M63.5 649v4M64.5 653v3M65.5 656v4M66.5 660v3M67.5 663v4M68.5 667v2M68.5 667v2M69.5 665v2M70.5 662v3M71.5 659v3M72.5 657v2M73.5 654v3M74.5 651v3M75.5 649v2M76.5 647v2M76.5 647v2M77.5 649v2M78.5 651v2M79.5 653v2M80.5 655v3M81.5 658v2M82.5 660v2M83.5 662v2M84.5 664v2M84.5 664v2M85.5 662v2M86.5 660v2M87.5 658v2M88.5 655v3M89.5 653v2M90.5 651v2M91.5 649v2M92.5 647v2M92.5 647v1M93.5 645v2M94.5 643v2M95.5 641v2M96.5 640v1M97.5 638v2M98.5 636v2M99.5 634v2M100.5 633v1M100.5 633v1M101.5 634v1M102.5 635v1M103.5 635v1M104.5 636v1M105.5 637v1M106.5 638v1M107.5 638v1M108.5 639v1M108.5 639v1M109.5 640v1M110.5 640v1M111.5 641v1M112.5 641v1M113.5 642v1M114.5 642v1M115.5 643v1M116.5 643v1M116.5 642v2M117.5 639v3M118.5 636v3M119.5 633v3M120.5 631v2M121.5 628v3M122.5 625v3M123.5 622v3M124.5 620v2M124.5 620v2M125.5 622v4M126.5 626v3M127.5 629v4M128.5 633v3M129.5 636v4M130.5 640v3M131.5 643v4M132.5 647v2M132.5 646v3M133.5 642v4M134.5 638v4M135.5 634v4M136.5 629v5M137.5 625v4M138.5 621v4M139.5 617v4M140.5 614v3M140.5 614v8M141.5 622v14M142.5 636v14M143.5 650v15M144.5 665v14M145.5 679v15M146.5 694v14M147.5 708v14M148.5 722v8M148.5 728v2M149.5 724v4M150.5 721v3M151.5 718v3M152.5 714v4M153.5 711v3M154.5 708v3M155.5 704v4M156.5 702v2M156.5 702v2M157.5 704v4M158.5 708v4M159.5 712v4M160.5 716v4M161.5 720v4M162.5 724v4M163.5 728v4M164.5 732v2M164.5 732v2M165.5 730v2M166.5 728v2M167.5 726v2M168.5 723v3M169.5 721v2M170.5 719v2M171.5 717v2M172.5 715v2M172.5 714v2M173.5 712v2M174.5 710v2M175.5 708v2M176.5 705v3M177.5 703v2M178.5 701v2M179.5 699v2M180.5 697v2M180.5 697v1M181.5 698v1M182.5 698v1M183.5 699v1M184.5 700v1M185.5 700v1M186.5 701v1M187.5 701v1M188.5 702v1M188.5 702v1M189.5 702v1M190.5 703v1M191.5 703v1M192.5 704v1M193.5 704v1M194.5 704v1M195.5 705v1M196.5 705v1M196.5 704v2M197.5 702v2M198.5 699v3M199.5 697v2M200.5 694v3M201.5 692v2M202.5 689v3M203.5 687v2M204.5 685v2M204.5 685v1M205.5 686v1M206.5 687v1M207.5 688v1M208.5 689v1M209.5 690v1M210.5 691v1M211.5 692v1M212.5 693v1M212.5 690v4M213.5 684v6M214.5 677v7M215.5 670v7M216.5 664v6M217.5 657v7M218.5 650v7M219.5 644v6M220.5 640v4M220.5 639v2M221.5 635v4M222.5 631v4M223.5 627v4M224.5 623v4M225.5 619v4M226.5 615v4M227.5 611v4M228.5 609v2M228.5 609v2M229.5 611v2M230.5 613v3M231.5 616v2M232.5 618v3M233.5 621v2M234.5 623v3M235.5 626v2M236.5 628v2M236.5 629v2M237.5 631v3M238.5 634v3M239.5 637v3M240.5 640v2M241.5 642v3M242.5 645v3M243.5 648v3M244.5 651v2M244.5 652v1M245.5 651v1M246.5 651v1M247.5 650v1M248.5 650v1M249.5 649v1M250.5 648v1M251.5 648v1M252.5 647v1M252.5 647v1M253.5 647v1M254.5 647v1M255.5 647v1M256.5 647v1M257.5 647v1M258.5 647v1M259.5 647v1M260.5 647v1M260.5 647v2M261.5 649v3M262.5 652v4M263.5 656v3M264.5 659v3M265.5 662v3M266.5 665v4M267.5 669v3M268.5 672v2M268.5 673v5M269.5 678v9M270.5 687v9M271.5 696v9M272.5 705v9M273.5 714v9M274.5 723v9M275.5 732v9M276.5 741v5M276.5 745v2M277.5 747v3M278.5 750v3M279.5 753v3M280.5 756v2M281.5 758v3M282.5 761v3M283.5 764v3M284.5 767v2M284.5 765v4M285.5 759v6M286.5 753v6M287.5 747v6M288.5 740v7M289.5 734v6M290.5 728v6M291.5 722v6M292.5 718v4M292.5 716v3M293.5 712v4M294.5 707v5M295.5 703v4M296.5 698v5M297.5 694v4M298.5 689v5M299.5 685v4M300.5 682v3M300.5 682v2M301.5 684v3M302.5 687v3M303.5 690v3M304.5 693v3M305.5 696v3M306.5 699v3M307.5 702v3M308.5 705v2M308.5 704v3M309.5 698v6M310.5 693v5M311.5 687v6M312.5 682v5M313.5 676v6M314.5 671v5M315.5 665v6M316.5 662v3M316.5 662v1M317.5 662v1M318.5 661v1M319.5 661v1M320.5 660v1M321.5 660v1M322.5 659v1M323.5 659v1M324.5 658v1M324.5 658v1M325.5 656v2M326.5 655v1M327.5 653v2M328.5 652v1M329.5 650v2M330.5 649v1M331.5 647v2M332.5 646v1M332.5 646v1M333.5 645v1M334.5 644v1M335.5 643v1M336.5 642v1M337.5 641v1M338.5 640v1M339.5 639v1M340.5 638v1M340.5 638v6M341.5 644v11M342.5 655v12M343.5 667v11M344.5 678v11M345.5 689v11M346.5 700v12M347.5 712v11M348.5 723v6M348.5 727v2M349.5 723v4M350.5 719v4M351.5 715v4M352.5 712v3M353.5 708v4M354.5 704v4M355.5 700v4M356.5 698v2M356.5 698v1M357.5 697v1M358.5 696v1M359.5 695v1M360.5 695v1M361.5 694v1M362.5 693v1M363.5 692v1M364.5 691v1M364.5 691v1M365.5 692v2M366.5 694v1M367.5 695v1M368.5 696v2M369.5 698v1M370.5 699v1M371.5 700v2M372.5 702v1M372.5 702v1M373.5 700v2M374.5 698v2M375.5 696v2M376.5 695v1M377.5 693v2M378.5 691v2M379.5 689v2M380.5 688v1M380.5 687v2M381.5 684v3M382.5 680v4M383.5 677v3M384.5 674v3M385.5 671v3M386.5 667v4M387.5 664v3M388.5 662v2M388.5 662v2M389.5 664v2M390.5 666v3M391.5 669v3M392.5 672v2M393.5 674v3M394.5 677v3M395.5 680v2M396.5 682v2M396.5 683v1M397.5 681v2M398.5 680v1M399.5 679v1M400.5 677v2M401.5 676v1M402.5 675v1M403.5 673v2M404.5 672v1M404.5 671v2M405.5 668v3M406.5 665v3M407.5 662v3M408.5 658v4M409.5 655v3M410.5 652v3M411.5 649v3M412.5 647v2M412.5 647v1M413.5 647v1M414.5 647v1M415.5 647v1M416.5 647v1M417.5 646v1M418.5 646v1M419.5 646v1M420.5 646v1M420.5 646v6M421.5 652v12M422.5 664v12M423.5 676v11M424.5 687v12M425.5 699v11M426.5 710v12M427.5 722v12M428.5 734v6M428.5 739v1M429.5 738v1M430.5 737v1M431.5 736v1M432.5 735v1M433.5 734v1M434.5 733v1M435.5 732v1M436.5 731v1M436.5 731v2M437.5 733v2M438.5 735v2M439.5 737v2M440.5 739v2M441.5 741v2M442.5 743v2M443.5 745v2M444.5 747v2M444.5 747v2M445.5 744v3M446.5 742v2M447.5 739v3M448.5 736v3M449.5 733v3M450.5 731v2M451.5 728v3M452.5 726v2M452.5 726v1M453.5 724v2M454.5 722v2M455.5 721v1M456.5 719v2M457.5 718v1M458.5 716v2M459.5 714v2M460.5 713v1M460.5 712v2M461.5 708v4M462.5 704v4M463.5 701v3M464.5 697v4M465.5 694v3M466.5 690v4M467.5 686v4M468.5 684v2M468.5 683v2M469.5 681v2M470.5 678v3M471.5 676v2M472.5 673v3M473.5 671v2M474.5 668v3M475.5 666v2M476.5 664v2M476.5 664v6M477.5 670v12M478.5 682v12M479.5 694v12M480.5 706v12M481.5 718v12M482.5 730v12M483.5 742v12M484.5 754v6M484.5 759v1M485.5 759v1M486.5 758v1M487.5 758v1M488.5 758v1M489.5 757v1M490.5 757v1M491.5 756v1M492.5 756v1M492.5 756v1M493.5 757v2M494.5 759v1M495.5 760v2M496.5 762v1M497.5 763v2M498.5 765v1M499.5 766v2M500.5 768v1M500.5 768v1M501.5 769v1M502.5 770v1M503.5 771v1M504.5 772v2M505.5 774v1M506.5 775v1M507.5 776v1M508.5 777v1M508.5 773v5M509.5 764v9M510.5 755v9M511.5 746v9M512.5 737v9M513.5 728v9M514.5 719v9M515.5 710v9M516.5 705v5M516.5 705v3M517.5 708v6M518.5 714v6M519.5 720v6M520.5 726v6M521.5 732v6M522.5 738v6M523.5 744v6M524.5 750v3M524.5 752v3M525.5 755v5M526.5 760v5M527.5 765v5M528.5 770v6M529.5 776v5M530.5 781v5M531.5 786v5M532.5 791v3M532.5 793v1M533.5 794v1M534.5 795v1M535.5 796v1M536.5 797v1M537.5 797v1M538.5 798v1M539.5 799v1M540.5 800v1M540.5 800v1M541.5 801v1M542.5 801v1M543.5 802v1M544.5 802v1M545.5 803v1M546.5 803v1M547.5 804v1M548.5 804v1M548.5 804v1M549.5 805v1M550.5 805v1M551.5 806v1M552.5 807v1M553.5 807v1M554.5 808v1M555.5 808v1M556.5 809v1M556.5 809v1M557.5 810v1M558.5 810v1M559.5 811v1M560.5 812v1M561.5 812v1M562.5 813v1M563.5 813v1M564.5 814v1M564.5 809v6M565.5 797v12M566.5 785v12M567.5 774v11M568.5 762v12M569.5 751v11M570.5 739v12M571.5 727v12M572.5 721v6M572.5 719v3M573.5 715v4M574.5 711v4M575.5 707v4M576.5 702v5M577.5 698v4M578.5 694v4M579.5 690v4M580.5 687v3M580.5 687v2M581.5 689v3M582.5 692v3M583.5 695v3M584.5 698v2M585.5 700v3M586.5 703v3M587.5 706v3M588.5 709v2M588.5 709v2M589.5 706v3M590.5 702v4M591.5 699v3M592.5 696v3M593.5 693v3M594.5 689v4M595.5 686v3M596.5 684v2M596.5 684v1M597.5 684v1M598.5 684v1M599.5 683v1M600.5 683v1M601.5 683v1M602.5 683v1M603.5 682v1M604.5 682v1M604.5 682v1M605.5 682v1M606.5 681v1M607.5 681v1M608.5 681v1M609.5 680v1M610.5 680v1M611.5 679v1M612.5 679v1M612.5 679v2M613.5 681v3M614.5 684v3M615.5 687v3M616.5 690v4M617.5 694v3M618.5 697v3M619.5 700v3M620.5 703v2M620.5 703v2M621.5 700v3M622.5 698v2M623.5 695v3M624.5 692v3M625.5 689v3M626.5 687v2M627.5 684v3M628.5 682v2M628.5 682v1M629.5 682v1M630.5 681v1M631.5 681v1M632.5 680v1M633.5 680v1M634.5 679v1M635.5 679v1M636.5 678v1M636.5 677v2M637.5 674v3M638.5 671v3M639.5 668v3M640.5 665v3M641.5 662v3M642.5 659v3M643.5 656v3M644.5 654v2M644.5 653v2M645.5 649v4M646.5 645v4M647.5 641v4M648.5 638v3M649.5 634v4M650.5 630v4M651.5 626v4M652.5 624v2M652.5 624v1M653.5 622v2M654.5 621v1M655.5 619v2M656.5 618v1M657.5 616v2M658.5 615v1M659.5 613v2M660.5 612v1M660.5 612v1M661.5 613v1M662.5 613v1M663.5 614v1M664.5 615v1M665.5 615v1M666.5 616v1M667.5 616v1M668.5 617v1M668.5 617v1M669.5 617v1M670.5 617v1M671.5 617v1M672.5 617v1M673.5 616v1M674.5 616v1M675.5 616v1M676.5 616v1M676.5 616v1M677.5 614v2M678.5 613v1M679.5 612v1M680.5 610v2M681.5 609v1M682.5 608v1M683.5 606v2M684.5 605v1M684.5 605v2M685.5 607v4M686.5 611v4M687.5 615v4M688.5 619v4M689.5 623v4M690.5 627v4M691.5 631v4M692.5 635v2M692.5 636v4M693.5 640v6M694.5 646v7M695.5 653v7M696.5 660v6M697.5 666v7M698.5 673v7M699.5 680v6M700.5 686v4M700.5 689v4M701.5 693v6M702.5 699v7M703.5 706v7M704.5 713v6M705.5 719v7M706.5 726v7M707.5 733v6M708.5 739v4M708.5 742v3M709.5 745v4M710.5 749v5M711.5 754v4M712.5 758v5M713.5 763v4M714.5 767v5M715.5 772v4M716.5 776v3M716.5 778v1M717.5 778v1M718.5 778v1M719.5 778v1M720.5 779v1M721.5 779v1M722.5 779v1M723.5 779v1M724.5 779v1M724.5 779v1M725.5 779v1M726.5 780v1M727.5 780v1M728.5 781v1M729.5 781v1M730.5 781v1M731.5 782v1M732.5 782v1M732.5 782v1M733.5 781v1M734.5 781v1M735.5 780v1M736.5 779v1M737.5 778v1M738.5 778v1M739.5 777v1M740.5 776v1M740.5 776v1M741.5 777v1M742.5 778v1M743.5 779v1M744.5 780v1M745.5 780v1M746.5 781v1M747.5 782v1M748.5 783v1M748.5 782v2M749.5 779v3M750.5 776v3M751.5 773v3M752.5 770v3M753.5 767v3M754.5 764v3M755.5 761v3M756.5 759v2M756.5 759v1M757.5 760v1M758.5 760v1M759.5 761v1M760.5 761v1M761.5 762v1M762.5 762v1M763.5 763v1M764.5 763v1M764.5 762v2M765.5 760v2M766.5 758v2M767.5 756v2M768.5 753v3M769.5 751v2M770.5 749v2M771.5 747v2M772.5 745v2M772.5 744v2M773.5 740v4M774.5 736v4M775.5 733v3M776.5 729v4M777.5 726v3M778.5 722v4M779.5 718v4M780.5 716v2M780.5 716v1M781.5 715v1M782.5 713v2M783.5 712v1M784.5 711v1M785.5 710v1M786.5 708v2M787.5 707v1M788.5 706v1M788.5 702v5M789.5 694v8M790.5 686v8M791.5 678v8M792.5 669v9M793.5 661v8M794.5 653v8M795.5 645v8M796.5 640v5M796.5 640v1M797.5 639v1M798.5 638v1M799.5 637v1M800.5 637v1M801.5 636v1M802.5 635v1M803.5 634v1M804.5 633v1M804.5 633v3M805.5 636v4M806.5 640v4M807.5 644v5M808.5 649v4M809.5 653v5M810.5 658v4M811.5 662v4M812.5 666v3M812.5 668v1M813.5 666v2M814.5 664v2M815.5 662v2M816.5 661v1M817.5 659v2M818.5 657v2M819.5 655v2M820.5 654v1M820.5 654v2M821.5 656v3M822.5 659v3M823.5 662v3M824.5 665v4M825.5 669v3M826.5 672v3M827.5 675v3M828.5 678v2M828.5 679v5M829.5 684v8M830.5 692v8M831.5 700v9M832.5 709v8M833.5 717v9M834.5 726v8M835.5 734v8M836.5 742v5M836.5 742v5M837.5 733v9M838.5 724v9M839.5 715v9M840.5 707v8M841.5 698v9M842.5 689v9M843.5 680v9M844.5 675v5M844.5 675v1M845.5 676v1M846.5 677v2M847.5 679v1M848.5 680v1M849.5 681v1M850.5 682v2M851.5 684v1M852.5 685v1M852.5 684v2M853.5 682v2M854.5 680v2M855.5 678v2M856.5 675v3M857.5 673v2M858.5 671v2M859.5 669v2M860.5 667v2M860.5 666v2M861.5 664v2M862.5 662v2M863.5 660v2M864.5 658v2M865.5 656v2M866.5 654v2M867.5 652v2M868.5 650v2M868.5 650v4M869.5 654v7M870.5 661v6M871.5 667v7M872.5 674v7M873.5 681v7M874.5 688v6M875.5 694v7M876.5 701v4M876.5 704v3M877.5 707v5M878.5 712v5M879.5 717v5M880.5 722v4M881.5 726v5M882.5 731v5M883.5 736v5M884.5 741v3M884.5 743v1M885.5 742v1M886.5 741v1M887.5 740v1M888.5 738v2M889.5 737v1M890.5 736v1M891.5 735v1M892.5 734v1M892.5 732v3M893.5 726v6M894.5 720v6M895.5 714v6M896.5 708v6M897.5 702v6M898.5 696v6M899.5 690v6M900.5 687v3M900.5 685v3M901.5 679v6M902.5 674v5M903.5 668v6M904.5 663v5M905.5 657v6M906.5 652v5M907.5 646v6M908.5 643v3M908.5 643v1M909.5 642v1M910.5 641v1M911.5 640v1M912.5 639v1M913.5 638v1M914.5 637v1M915.5 636v1M916.5 635v1M916.5 635v2M917.5 637v4M918.5 641v4M919.5 645v4M920.5 649v4M921.5 653v4M922.5 657v4M923.5 661v4M924.5 665v2M924.5 665v2M925.5 663v2M926.5 660v3M927.5 657v3M928.5 655v2M929.5 652v3M930.5 649v3M931.5 647v2M932.5 645v2M932.5 645v3M933.5 648v6M934.5 654v5M935.5 659v5M936.5 664v6M937.5 670v5M938.5 675v5M939.5 680v6M940.5 686v3M940.5 688v1M941.5 686v2M942.5 684v2M943.5 682v2M944.5 681v1M945.5 679v2M946.5 677v2M947.5 675v2M948.5 674v1M948.5 674v1M949.5 675v2M950.5 677v1M951.5 678v2M952.5 680v1M953.5 681v2M954.5 683v1M955.5 684v2M956.5 686v1M956.5 686v1M957.5 685v1M958.5 683v2M959.5 682v1M960.5 681v1M961.5 680v1M962.5 678v2M963.5 677v1M964.5 676v1M964.5 675v2M965.5 671v4M966.5 667v4M967.5 664v3M968.5 660v4M969.5 657v3M970.5 653v4M971.5 649v4M972.5 647v2M972.5 647v6M973.5 653v10M974.5 663v10M975.5 673v10M976.5 683v10M977.5 693v10M978.5 703v10M979.5 713v10M980.5 723v6M980.5 728v2M981.5 730v3M982.5 733v3M983.5 736v3M984.5 739v3M985.5 742v3M986.5 745v3M987.5 748v3M988.5 751v2M988.5 751v2M989.5 747v4M990.5 744v3M991.5 740v4M992.5 737v3M993.5 733v4M994.5 730v3M995.5 726v4M996.5 724v2M996.5 723v2M997.5 720v3M998.5 718v2M999.5 715v3M1000.5 712v3M1001.5 709v3M1002.5 707v2M1003.5 704v3M1004.5 702v2M1004.5 702v1M1005.5 700v2M1006.5 698v2M1007.5 696v2M1008.5 694v2M1009.5 692v2M1010.5 690v2M1011.5 688v2M1012.5 687v1M1012.5 685v3M1013.5 679v6M1014.5 674v5M1015.5 668v6M1016.5 663v5M1017.5 657v6M1018.5 652v5M1019.5 646v6M1020.5 643v3M1020.5 642v2M1021.5 639v3M1022.5 636v3M1023.5 633v3M1024.5 631v2M1025.5 628v3M1026.5 625v3M1027.5 622v3M1028.5 620v2M1028.5 620v4M1029.5 624v6M1030.5 630v6M1031.5 636v6M1032.5 642v7M1033.5 649v6M1034.5 655v6M1035.5 661v6M1036.5 667v4M1036.5 669v2M1037.5 667v2M1038.5 665v2M1039.5 662v3M1040.5 660v2M1041.5 657v3M1042.5 655v2M1043.5 653v2M1044.5 651v2M1044.5 651v1M1045.5 651v1M1046.5 651v1M1047.5 651v1M1048.5 652v1M1049.5 652v1M1050.5 652v1M1051.5 652v1M1052.5 652v1M1052.5 652v1M1053.5 652v1M1054.5 653v1M1055.5 653v1M1056.5 654v1M1057.5 654v1M1058.5 654v1M1059.5 655v1M1060.5 655v1M1060.5 655v1M1061.5 654v1M1062.5 654v1M1063.5 653v1M1064.5 652v1M1065.5 651v1M1066.5 651v1M1067.5 650v1M1068.5 649v1M1068.5 649v5M1069.5 654v10M1070.5 664v10M1071.5 674v10M1072.5 684v9M1073.5 693v10M1074.5 703v10M1075.5 713v10M1076.5 723v5M1076.5 727v2M1077.5 729v2M1078.5 731v3M1079.5 734v2M1080.5 736v3M1081.5 739v2M1082.5 741v3M1083.5 744v2M1084.5 746v2M1084.5 747v3M1085.5 750v5M1086.5 755v5M1087.5 760v5M1088.5 765v4M1089.5 769v5M1090.5 774v5M1091.5 779v5M1092.5 784v3M1092.5 785v2M1093.5 781v4M1094.5 778v3M1095.5 775v3M1096.5 771v4M1097.5 768v3M1098.5 765v3M1099.5 761v4M1100.5 759v2M1100.5 758v2M1101.5 754v4M1102.5 750v4M1103.5 747v3M1104.5 743v4M1105.5 740v3M1106.5 736v4M1107.5 732v4M1108.5 730v2M1108.5 729v2M1109.5 725v4M1110.5 722v3M1111.5 719v3M1112.5 715v4M1113.5 712v3M1114.5 709v3M1115.5 705v4M1116.5 703v2M1116.5 703v1M1117.5 704v1M1118.5 705v1M1119.5 706v1M1120.5 707v1M1121.5 708v1M1122.5 709v1M1123.5 710v1M1124.5 711v1M1124.5 709v3M1125.5 704v5M1126.5 699v5M1127.5 694v5M1128.5 688v6M1129.5 683v5M1130.5 678v5M1131.5 673v5M1132.5 670v3M1132.5 670v1M1133.5 670v1M1134.5 670v1M1135.5 669v1M1136.5 669v1M1137.5 669v1M1138.5 669v1M1139.5 668v1M1140.5 668v1M1140.5 668v1M1141.5 667v1M1142.5 666v1M1143.5 665v1M1144.5 665v1M1145.5 664v1M1146.5 663v1M1147.5 662v1M1148.5 661v1M1148.5 660v2M1149.5 658v2M1150.5 655v3M1151.5 653v2M1152.5 650v3M1153.5 648v2M1154.5 645v3M1155.5 643v2M1156.5 641v2M1156.5 641v2M1157.5 643v4M1158.5 647v3M1159.5 650v3M1160.5 653v4M1161.5 657v3M1162.5 660v3M1163.5 663v4M1164.5 667v2M1164.5 668v1M1165.5 669v2M1166.5 671v1M1167.5 672v1M1168.5 673v2M1169.5 675v1M1170.5 676v1M1171.5 677v2M1172.5 679v1M1172.5 679v2M1173.5 681v4M1174.5 685v4M1175.5 689v4M1176.5 693v3M1177.5 696v4M1178.5 700v4M1179.5 704v4M1180.5 708v2M1180.5 709v1M1181.5 707v2M1182.5 705v2M1183.5 703v2M1184.5 702v1M1185.5 700v2M1186.5 698v2M1187.5 696v2M1188.5 695v1M1188.5 695v2M1189.5 697v2M1190.5 699v2M1191.5 701v2M1192.5 703v2M1193.5 705v2M1194.5 707v2M1195.5 709v2M1196.5 711v2M1196.5 712v3M1197.5 715v6M1198.5 721v6M1199.5 727v6M1200.5 733v5M1201.5 738v6M1202.5 744v6M1203.5 750v6M1204.5 756v3M1204.5 756v3M1205.5 751v5M1206.5 746v5M1207.5 741v5M1208.5 735v6M1209.5 730v5M1210.5 725v5M1211.5 720v5M1212.5 717v3M1212.5 717v2M1213.5 719v4M1214.5 723v4M1215.5 727v4M1216.5 731v4M1217.5 735v4M1218.5 739v4M1219.5 743v4M1220.5 747v3M1220.5 749v3M1221.5 752v4M1222.5 756v4M1223.5 760v4M1224.5 764v5M1225.5 769v4M1226.5 773v4M1227.5 777v4M1228.5 781v3M1228.5 783v2M1229.5 785v3M1230.5 788v2M1231.5 790v3M1232.5 793v3M1233.5 796v3M1234.5 799v2M1235.5 801v3M1236.5 804v2M1236.5 805v1M1237.5 806v1M1238.5 807v2M1239.5 809v1M1240.5 810v1M1241.5 811v1M1242.5 812v2M1243.5 814v1M1244.5 815v1M1244.5 814v2M1245.5 811v3M1246.5 807v4M1247.5 804v3M1248.5 801v3M1249.5 798v3M1250.5 794v4M1251.5 791v3M1252.5 789v2M1252.5 787v3M1253.5 782v5M1254.5 777v5M1255.5 772v5M1256.5 768v4M1257.5 763v5M1258.5 758v5M1259.5 753v5M1260.5 750v3M1260.5 750v1M1261.5 750v1M1262.5 749v1M1263.5 749v1M1264.5 749v1M1265.5 748v1M1266.5 748v1M1267.5 747v1M1268.5 747v1M1268.5 747v2M1269.5 749v2M1270.5 751v2M1271.5 753v2M1272.5 755v3M1273.5 758v2M1274.5 760v2M1275.5 762v2M1276.5 764v2M1276.5 765v1M1277.5 765v1M1278.5 765v1M1279.5 764v1M1280.5 764v1M1281.5 764v1M1282.5 764v1M1283.5 763v1M1284.5 763v1M1284.5 762v2M1285.5 759v3M1286.5 756v3M1287.5 753v3M1288.5 751v2M1289.5 748v3M1290.5 745v3M1291.5 742v3M1292.5 740v2M1292.5 740v1M1293.5 739v1M1294.5 738v1M1295.5 737v1M1296.5 736v1M1297.5 735v1M1298.5 734v1M1299.5 733v1M1300.5 732v1M1300.5 730v3M1301.5 725v5M1302.5 720v5M1303.5 715v5M1304.5 709v6M1305.5 704v5M1306.5 699v5M1307.5 694v5M1308.5 691v3M1308.5 691v2M1309.5 693v4M1310.5 697v4M1311.5 701v3M1312.5 704v4M1313.5 708v3M1314.5 711v4M1315.5 715v4M1316.5 719v2M1316.5 720v1M1317.5 721v1M1318.5 722v1M1319.5 723v1M1320.5 724v2M1321.5 726v1M1322.5 727v1M1323.5 728v1M1324.5 729v1M1324.5 728v2M1325.5 726v2M1326.5 723v3M1327.5 721v2M1328.5 718v3M1329.5 716v2M1330.5 713v3M1331.5 711v2M1332.5 709v2M1332.5 709v2M1333.5 711v3M1334.5 714v2M1335.5 716v3M1336.5 719v3M1337.5 722v3M1338.5 725v2M1339.5 727v3M1340.5 730v2M1340.5 730v2M1341.5 726v4M1342.5 723v3M1343.5 720v3M1344.5 716v4M1345.5 713v3M1346.5 710v3M1347.5 706v4M1348.5 704v2M1348.5 704v4M1349.5 708v6M1350.5 714v6M1351.5 720v6M1352.5 726v7M1353.5 733v6M1354.5 739v6M1355.5 745v6M1356.5 751v4M1356.5 754v2M1357.5 756v3M1358.5 759v3M1359.5 762v3M1360.5 765v3M1361.5 768v3M1362.5 771v3M1363.5 774v3M1364.5 777v2M1364.5 775v4M1365.5 767v8M1366.5 759v8M1367.5 752v7M1368.5 744v8M1369.5 737v7M1370.5 729v8M1371.5 721v8M1372.5 717v4M1372.5 717v1M1373.5 716v1M1374.5 715v1M1375.5 714v1M1376.5 713v1M1377.5 712v1M1378.5 711v1M1379.5 710v1M1380.5 709v1M1380.5 709v1M1381.5 708v1M1382.5 708v1M1383.5 707v1M1384.5 707v1M1385.5 706v1M1386.5 705v1M1387.5 705v1M1388.5 704v1M1388.5 704v2M1389.5 706v3M1390.5 709v4M1391.5 713v3M1392.5 716v3M1393.5 719v3M1394.5 722v4M1395.5 726v3M1396.5 729v2M1396.5 729v2M1397.5 725v4M1398.5 721v4M1399.5 717v4M1400.5 713v4M1401.5 709v4M1402.5 705v4M1403.5 701v4M1404.5 699v2M1404.5 699v5M1405.5 704v10M1406.5 714v9M1407.5 723v9M1408.5 732v10M1409.5 742v9M1410.5 751v9M1411.5 760v10M1412.5 770v5M1412.5 774v2M1413.5 776v2M1414.5 778v2M1415.5 780v2M1416.5 782v3M1417.5 785v2M1418.5 787v2M1419.5 789v2M1420.5 791v2M1420.5 789v4M1421.5 781v8M1422.5 774v7M1423.5 766v8M1424.5 759v7M1425.5 751v8M1426.5 744v7M1427.5 736v8M1428.5 732v4M1428.5 732v1M1429.5 733v1M1430.5 734v1M1431.5 734v1M1432.5 735v1M1433.5 736v1M1434.5 737v1M1435.5 737v1M1436.5 738v1" fill="none" stroke="#ff00ff" stroke-width="1"/>
<path d="M332.5 282v4M332.5 288v4M332.5 294v2" stroke="#108090" stroke-width="1" fill="none"/>
<g shape-rendering="auto">
<rect x="8.7" y="10.5" width="18" height="14" rx="1.8" fill="#fcfcfd" stroke="#5a5a5a" stroke-width="1.1"/>
<rect x="8.1" y="8.1" width="19.1" height="3.4" rx="1.5" fill="#8282ff"/>
<rect x="9.6" y="10.2" width="16.6" height="0.7" fill="#dedeff"/>
<rect x="8.4" y="11.2" width="18.5" height="0.6" fill="#7676a8"/>
<rect x="10.9" y="13" width="6.1" height="9.6" fill="#f6cdc8"/>
<rect x="18.3" y="13" width="6.4" height="9.6" fill="#d4d4fd"/>
<rect x="10.9" y="13.45" width="6.1" height="1.25" fill="#e2685e"/>
<rect x="18.6" y="13.45" width="5.9" height="1.25" fill="#6c6cf0"/>
<rect x="10.9" y="16.0" width="6.1" height="1.25" fill="#e2685e"/>
<rect x="18.6" y="16.0" width="5.9" height="1.25" fill="#6c6cf0"/>
<rect x="10.9" y="18.9" width="6.1" height="1.25" fill="#e2685e"/>
<rect x="18.6" y="18.9" width="5.9" height="1.25" fill="#6c6cf0"/>
<rect x="10.9" y="21.0" width="6.1" height="1.25" fill="#e2685e"/>
<rect x="18.6" y="21.0" width="5.9" height="1.25" fill="#6c6cf0"/>
<rect x="10.9" y="17.2" width="6.1" height="1.7" fill="#efaaa2"/><rect x="18.6" y="17.2" width="5.9" height="1.7" fill="#a8a8f6"/>
<rect x="36.4" y="9.5" width="6.7" height="4.4" fill="#f4f4f2"/>
<rect x="36.9" y="9.9" width="6" height="1.1" fill="#747474"/><rect x="36.7" y="12.1" width="6.3" height="1.5" fill="#8a8c8a"/>
<path d="M30.2 12Q30.2 9.7 32.6 9.7Q35.1 9.7 35.1 12V14Q35.1 15.1 36.4 15.1H36.9Q39 15.1 39 17.2V21.8Q39 24 36.8 24H32.4Q30.2 24 30.2 21.8Z" fill="#2a2af2" stroke="#1212e6" stroke-width="0.6"/>
<path d="M31.6 12.2Q31.6 11 32.6 11Q33.7 11 33.7 12.2V16.3H37.3V20.5H31.6Z" fill="#4a4af0" opacity="0.7"/>
<rect x="31.6" y="21.2" width="6.1" height="1" rx="0.4" fill="#8c8cff"/>
<path d="M49.2 12Q49.2 9.7 46.9 9.7Q44.6 9.7 44.6 12V14Q44.6 15.1 43.3 15.1H42.4Q40.2 15.1 40.2 17.2V21.8Q40.2 24 42.4 24H47Q49.2 24 49.2 21.8Z" fill="#c62a24" stroke="#b81c18" stroke-width="0.6"/>
<path d="M47.8 12.2Q47.8 11 46.9 11Q46 11 46 12.2V16.3H41.8V20.5H47.8Z" fill="#e07068" opacity="0.6"/>
<rect x="41.8" y="21.2" width="6" height="1" rx="0.4" fill="#e29088"/>
</g>
</svg>
<div class="t" style="left:57.09px;top:11px;transform:scaleX(0.9096);">EURUSD,</div>
<div class="t" style="left:109.78px;top:11px;transform:scaleX(1.0176);">H1:</div>
<div class="t" style="left:136.69px;top:11px;transform:scaleX(1.0083);">Euro</div>
<div class="t" style="left:167.20px;top:11px;transform:scaleX(0.8333);">vs</div>
<div class="t" style="left:180.85px;top:11px;transform:scaleX(0.9467);">US</div>
<div class="t" style="left:200.08px;top:11px;transform:scaleX(0.9200);">Dollar</div>
<div class="t" style="left:6.86px;top:582px;transform:scaleX(1.0375);">RSI(14)</div>
<div class="t" style="left:53.04px;top:582px;transform:scaleX(1.0621);">38.40</div>
<div class="t" style="left:89.07px;top:582px;transform:scaleX(1.0303);">RSI(5)</div>
<div class="t" style="left:127.79px;top:582px;transform:scaleX(1.1107);">38.43</div>
<div class="t" style="left:1456.54px;top:15px;transform:scaleX(1.0595);">1.23485</div>
<div class="t" style="left:1456.54px;top:48px;transform:scaleX(1.0595);">1.23400</div>
<div class="t" style="left:1456.54px;top:80px;transform:scaleX(1.0595);">1.23315</div>
<div class="t" style="left:1456.54px;top:113px;transform:scaleX(1.0595);">1.23230</div>
<div class="t" style="left:1456.54px;top:146px;transform:scaleX(1.0595);">1.23145</div>
<div class="t" style="left:1456.54px;top:178px;transform:scaleX(1.0595);">1.23060</div>
<div class="t" style="left:1456.54px;top:211px;transform:scaleX(1.0595);">1.22975</div>
<div class="t" style="left:1456.54px;top:243px;transform:scaleX(1.0595);">1.22890</div>
<div class="t" style="left:1456.54px;top:276px;transform:scaleX(1.0595);">1.22805</div>
<div class="t" style="left:1456.54px;top:308px;transform:scaleX(1.0595);">1.22720</div>
<div class="t" style="left:1456.54px;top:341px;transform:scaleX(1.0595);">1.22635</div>
<div class="t" style="left:1456.54px;top:374px;transform:scaleX(1.0595);">1.22550</div>
<div class="t" style="left:1456.54px;top:406px;transform:scaleX(1.0595);">1.22465</div>
<div class="t" style="left:1456.54px;top:439px;transform:scaleX(1.0595);">1.22380</div>
<div class="t" style="left:1456.54px;top:471px;transform:scaleX(1.0595);">1.22295</div>
<div class="t" style="left:1456.54px;top:504px;transform:scaleX(1.0595);">1.22210</div>
<div class="t" style="left:1456.54px;top:536px;transform:scaleX(1.0595);">1.22125</div>
<div style="position:absolute;left:1454px;top:443px;width:54px;height:14px;background:#778899"></div>
<div class="t" style="left:1457.65px;top:444px;transform:scaleX(1.0548);color:#fff">1.22366</div>
<div class="t" style="left:1456.83px;top:578px;transform:scaleX(1.0657);">100.00</div>
<div class="t" style="left:1455.82px;top:650px;transform:scaleX(1.0793);">70.00</div>
<div class="t" style="left:1455.82px;top:755px;transform:scaleX(1.0793);">30.00</div>
<div class="t" style="left:1456.90px;top:827px;transform:scaleX(1.0522);">0.00</div>
<div class="t" style="left:3.05px;top:845px;transform:scaleX(1.0478);">28 Dec 2020</div>
<div class="t" style="left:131.04px;top:845px;transform:scaleX(1.0614);">29 Dec 15:00</div>
<div class="t" style="left:259.04px;top:845px;transform:scaleX(1.0614);">30 Dec 07:00</div>
<div class="t" style="left:387.04px;top:845px;transform:scaleX(1.0614);">30 Dec 23:00</div>
<div class="t" style="left:515.04px;top:845px;transform:scaleX(1.0614);">31 Dec 15:00</div>
<div class="t" style="left:644.10px;top:845px;transform:scaleX(1.0355);">4 Jan 09:00</div>
<div class="t" style="left:771.05px;top:845px;transform:scaleX(1.0525);">5 Jan 01:00</div>
<div class="t" style="left:899.05px;top:845px;transform:scaleX(1.0525);">5 Jan 17:00</div>
<div class="t" style="left:1027.05px;top:845px;transform:scaleX(1.0525);">6 Jan 09:00</div>
<div class="t" style="left:1155.05px;top:845px;transform:scaleX(1.0525);">7 Jan 01:00</div>
<div class="t" style="left:1283.05px;top:845px;transform:scaleX(1.0525);">7 Jan 17:00</div>
<div class="t" style="left:1411.05px;top:845px;transform:scaleX(1.0525);">8 Jan 09:00</div>
</body></html>
